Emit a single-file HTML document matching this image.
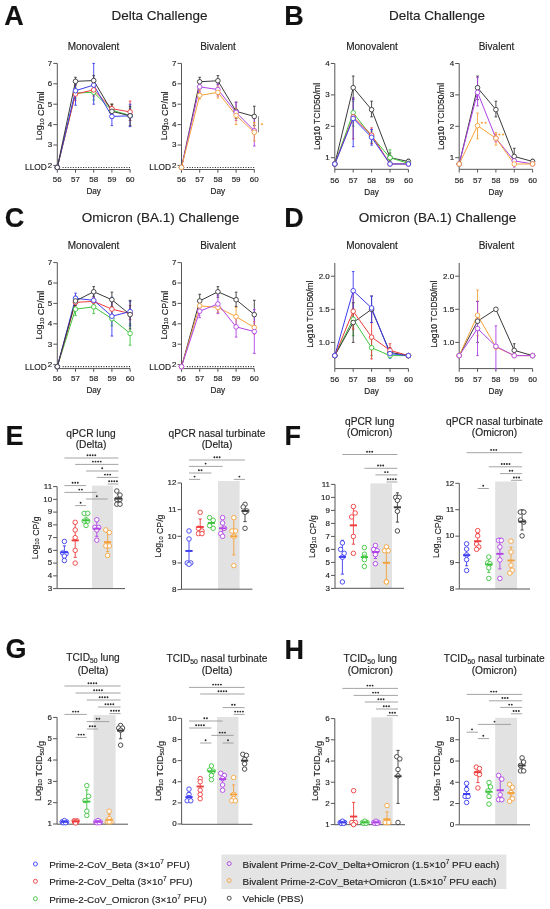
<!DOCTYPE html>
<html><head><meta charset="utf-8"><style>
html,body{margin:0;padding:0;background:#fff;}
svg{display:block;font-family:'Liberation Sans', sans-serif;filter:blur(0.3px);}
text{stroke:#222;stroke-width:0.15px;}
</style></head><body>
<svg width="550" height="909" viewBox="0 0 550 909">
<rect width="550" height="909" fill="#fff"/>
<text x="4.20" y="25.00" font-size="27" text-anchor="start" font-weight="700" fill="#111" >A</text>
<text x="284.20" y="25.00" font-size="27" text-anchor="start" font-weight="700" fill="#111" >B</text>
<text x="4.70" y="227.20" font-size="27" text-anchor="start" font-weight="700" fill="#111" >C</text>
<text x="284.20" y="227.30" font-size="27" text-anchor="start" font-weight="700" fill="#111" >D</text>
<text x="5.50" y="445.00" font-size="27" text-anchor="start" font-weight="700" fill="#111" >E</text>
<text x="284.60" y="445.00" font-size="27" text-anchor="start" font-weight="700" fill="#111" >F</text>
<text x="5.50" y="657.60" font-size="27" text-anchor="start" font-weight="700" fill="#111" >G</text>
<text x="284.40" y="658.50" font-size="27" text-anchor="start" font-weight="700" fill="#111" >H</text>
<text x="159.50" y="20.00" font-size="13.5" text-anchor="middle" font-weight="400" fill="#222" >Delta Challenge</text>
<text x="437.00" y="20.00" font-size="13.5" text-anchor="middle" font-weight="400" fill="#222" >Delta Challenge</text>
<text x="160.50" y="222.30" font-size="13.5" text-anchor="middle" font-weight="400" fill="#222" >Omicron (BA.1) Challenge</text>
<text x="437.50" y="222.30" font-size="13.5" text-anchor="middle" font-weight="400" fill="#222" >Omicron (BA.1) Challenge</text>
<text x="93.50" y="50.20" font-size="10" text-anchor="middle" font-weight="400" fill="#222" >Monovalent</text>
<text x="218.00" y="50.20" font-size="10" text-anchor="middle" font-weight="400" fill="#222" >Bivalent</text>
<text x="372.00" y="50.20" font-size="10" text-anchor="middle" font-weight="400" fill="#222" >Monovalent</text>
<text x="496.50" y="50.20" font-size="10" text-anchor="middle" font-weight="400" fill="#222" >Bivalent</text>
<text x="93.50" y="249.20" font-size="10" text-anchor="middle" font-weight="400" fill="#222" >Monovalent</text>
<text x="218.00" y="249.20" font-size="10" text-anchor="middle" font-weight="400" fill="#222" >Bivalent</text>
<text x="372.00" y="249.20" font-size="10" text-anchor="middle" font-weight="400" fill="#222" >Monovalent</text>
<text x="496.50" y="249.20" font-size="10" text-anchor="middle" font-weight="400" fill="#222" >Bivalent</text>
<line x1="57.30" y1="63.40" x2="57.30" y2="169.50" stroke="#555555" stroke-width="1" />
<line x1="57.30" y1="169.50" x2="130.10" y2="169.50" stroke="#555555" stroke-width="1" />
<line x1="53.30" y1="63.40" x2="57.30" y2="63.40" stroke="#555555" stroke-width="1" />
<text x="52.30" y="65.72" font-size="8" text-anchor="end" font-weight="400" fill="#222" >7</text>
<line x1="53.30" y1="83.80" x2="57.30" y2="83.80" stroke="#555555" stroke-width="1" />
<text x="52.30" y="86.12" font-size="8" text-anchor="end" font-weight="400" fill="#222" >6</text>
<line x1="53.30" y1="104.20" x2="57.30" y2="104.20" stroke="#555555" stroke-width="1" />
<text x="52.30" y="106.52" font-size="8" text-anchor="end" font-weight="400" fill="#222" >5</text>
<line x1="53.30" y1="124.60" x2="57.30" y2="124.60" stroke="#555555" stroke-width="1" />
<text x="52.30" y="126.92" font-size="8" text-anchor="end" font-weight="400" fill="#222" >4</text>
<line x1="53.30" y1="145.00" x2="57.30" y2="145.00" stroke="#555555" stroke-width="1" />
<text x="52.30" y="147.32" font-size="8" text-anchor="end" font-weight="400" fill="#222" >3</text>
<line x1="53.30" y1="165.40" x2="57.30" y2="165.40" stroke="#555555" stroke-width="1" />
<text x="52.30" y="167.72" font-size="8" text-anchor="end" font-weight="400" fill="#222" >2</text>
<line x1="57.30" y1="169.50" x2="57.30" y2="172.70" stroke="#555555" stroke-width="1" />
<text x="57.30" y="181.50" font-size="8" text-anchor="middle" font-weight="400" fill="#222" >56</text>
<line x1="75.50" y1="169.50" x2="75.50" y2="172.70" stroke="#555555" stroke-width="1" />
<text x="75.50" y="181.50" font-size="8" text-anchor="middle" font-weight="400" fill="#222" >57</text>
<line x1="93.70" y1="169.50" x2="93.70" y2="172.70" stroke="#555555" stroke-width="1" />
<text x="93.70" y="181.50" font-size="8" text-anchor="middle" font-weight="400" fill="#222" >58</text>
<line x1="111.90" y1="169.50" x2="111.90" y2="172.70" stroke="#555555" stroke-width="1" />
<text x="111.90" y="181.50" font-size="8" text-anchor="middle" font-weight="400" fill="#222" >59</text>
<line x1="130.10" y1="169.50" x2="130.10" y2="172.70" stroke="#555555" stroke-width="1" />
<text x="130.10" y="181.50" font-size="8" text-anchor="middle" font-weight="400" fill="#222" >60</text>
<text x="93.70" y="193.50" font-size="8.2" text-anchor="middle" font-weight="400" fill="#222" >Day</text>
<line x1="62.60" y1="167.44" x2="130.10" y2="167.44" stroke="#333" stroke-width="1.1" stroke-dasharray="1.1 1.45"/>
<text x="46.80" y="170.44" font-size="8.3" text-anchor="end" font-weight="400" fill="#222" >LLOD</text>
<line x1="75.50" y1="98.08" x2="75.50" y2="87.88" stroke="#3cc43c" stroke-width="0.9" />
<line x1="74.20" y1="98.08" x2="76.80" y2="98.08" stroke="#3cc43c" stroke-width="0.9" />
<line x1="74.20" y1="87.88" x2="76.80" y2="87.88" stroke="#3cc43c" stroke-width="0.9" />
<line x1="93.70" y1="100.12" x2="93.70" y2="85.84" stroke="#3cc43c" stroke-width="0.9" />
<line x1="92.40" y1="100.12" x2="95.00" y2="100.12" stroke="#3cc43c" stroke-width="0.9" />
<line x1="92.40" y1="85.84" x2="95.00" y2="85.84" stroke="#3cc43c" stroke-width="0.9" />
<line x1="111.90" y1="116.44" x2="111.90" y2="104.20" stroke="#3cc43c" stroke-width="0.9" />
<line x1="110.60" y1="116.44" x2="113.20" y2="116.44" stroke="#3cc43c" stroke-width="0.9" />
<line x1="110.60" y1="104.20" x2="113.20" y2="104.20" stroke="#3cc43c" stroke-width="0.9" />
<line x1="130.10" y1="120.52" x2="130.10" y2="108.28" stroke="#3cc43c" stroke-width="0.9" />
<line x1="128.80" y1="120.52" x2="131.40" y2="120.52" stroke="#3cc43c" stroke-width="0.9" />
<line x1="128.80" y1="108.28" x2="131.40" y2="108.28" stroke="#3cc43c" stroke-width="0.9" />
<polyline points="57.30,167.44 75.50,92.98 93.70,92.37 111.90,110.32 130.10,115.42" fill="none" stroke="#3cc43c" stroke-width="1.0" stroke-linejoin="round"/>
<line x1="75.50" y1="100.12" x2="75.50" y2="85.84" stroke="#ee3b3b" stroke-width="0.9" />
<line x1="74.20" y1="100.12" x2="76.80" y2="100.12" stroke="#ee3b3b" stroke-width="0.9" />
<line x1="74.20" y1="85.84" x2="76.80" y2="85.84" stroke="#ee3b3b" stroke-width="0.9" />
<line x1="93.70" y1="96.04" x2="93.70" y2="81.76" stroke="#ee3b3b" stroke-width="0.9" />
<line x1="92.40" y1="96.04" x2="95.00" y2="96.04" stroke="#ee3b3b" stroke-width="0.9" />
<line x1="92.40" y1="81.76" x2="95.00" y2="81.76" stroke="#ee3b3b" stroke-width="0.9" />
<line x1="111.90" y1="114.40" x2="111.90" y2="104.20" stroke="#ee3b3b" stroke-width="0.9" />
<line x1="110.60" y1="114.40" x2="113.20" y2="114.40" stroke="#ee3b3b" stroke-width="0.9" />
<line x1="110.60" y1="104.20" x2="113.20" y2="104.20" stroke="#ee3b3b" stroke-width="0.9" />
<line x1="130.10" y1="120.52" x2="130.10" y2="101.14" stroke="#ee3b3b" stroke-width="0.9" />
<line x1="128.80" y1="120.52" x2="131.40" y2="120.52" stroke="#ee3b3b" stroke-width="0.9" />
<line x1="128.80" y1="101.14" x2="131.40" y2="101.14" stroke="#ee3b3b" stroke-width="0.9" />
<polyline points="57.30,167.44 75.50,94.00 93.70,89.92 111.90,108.69 130.10,111.95" fill="none" stroke="#ee3b3b" stroke-width="1.0" stroke-linejoin="round"/>
<line x1="75.50" y1="105.22" x2="75.50" y2="83.80" stroke="#3c3cf0" stroke-width="0.9" />
<line x1="74.20" y1="105.22" x2="76.80" y2="105.22" stroke="#3c3cf0" stroke-width="0.9" />
<line x1="74.20" y1="83.80" x2="76.80" y2="83.80" stroke="#3c3cf0" stroke-width="0.9" />
<line x1="93.70" y1="104.20" x2="93.70" y2="63.40" stroke="#3c3cf0" stroke-width="0.9" />
<line x1="92.40" y1="104.20" x2="95.00" y2="104.20" stroke="#3c3cf0" stroke-width="0.9" />
<line x1="92.40" y1="63.40" x2="95.00" y2="63.40" stroke="#3c3cf0" stroke-width="0.9" />
<line x1="111.90" y1="125.62" x2="111.90" y2="107.26" stroke="#3c3cf0" stroke-width="0.9" />
<line x1="110.60" y1="125.62" x2="113.20" y2="125.62" stroke="#3c3cf0" stroke-width="0.9" />
<line x1="110.60" y1="107.26" x2="113.20" y2="107.26" stroke="#3c3cf0" stroke-width="0.9" />
<line x1="130.10" y1="126.64" x2="130.10" y2="104.20" stroke="#3c3cf0" stroke-width="0.9" />
<line x1="128.80" y1="126.64" x2="131.40" y2="126.64" stroke="#3c3cf0" stroke-width="0.9" />
<line x1="128.80" y1="104.20" x2="131.40" y2="104.20" stroke="#3c3cf0" stroke-width="0.9" />
<polyline points="57.30,167.44 75.50,90.74 93.70,85.02 111.90,116.44 130.10,115.83" fill="none" stroke="#3c3cf0" stroke-width="1.0" stroke-linejoin="round"/>
<line x1="75.50" y1="84.82" x2="75.50" y2="77.27" stroke="#3a3a3a" stroke-width="0.9" />
<line x1="74.20" y1="84.82" x2="76.80" y2="84.82" stroke="#3a3a3a" stroke-width="0.9" />
<line x1="74.20" y1="77.27" x2="76.80" y2="77.27" stroke="#3a3a3a" stroke-width="0.9" />
<line x1="93.70" y1="85.84" x2="93.70" y2="75.64" stroke="#3a3a3a" stroke-width="0.9" />
<line x1="92.40" y1="85.84" x2="95.00" y2="85.84" stroke="#3a3a3a" stroke-width="0.9" />
<line x1="92.40" y1="75.64" x2="95.00" y2="75.64" stroke="#3a3a3a" stroke-width="0.9" />
<line x1="111.90" y1="118.48" x2="111.90" y2="104.20" stroke="#3a3a3a" stroke-width="0.9" />
<line x1="110.60" y1="118.48" x2="113.20" y2="118.48" stroke="#3a3a3a" stroke-width="0.9" />
<line x1="110.60" y1="104.20" x2="113.20" y2="104.20" stroke="#3a3a3a" stroke-width="0.9" />
<line x1="130.10" y1="125.62" x2="130.10" y2="106.24" stroke="#3a3a3a" stroke-width="0.9" />
<line x1="128.80" y1="125.62" x2="131.40" y2="125.62" stroke="#3a3a3a" stroke-width="0.9" />
<line x1="128.80" y1="106.24" x2="131.40" y2="106.24" stroke="#3a3a3a" stroke-width="0.9" />
<polyline points="57.30,167.44 75.50,81.35 93.70,80.54 111.90,111.34 130.10,115.83" fill="none" stroke="#3a3a3a" stroke-width="1.0" stroke-linejoin="round"/>
<circle cx="57.30" cy="167.44" r="2.3" stroke="#3cc43c" stroke-width="0.9" fill="#fff"/>
<circle cx="75.50" cy="92.98" r="2.3" stroke="#3cc43c" stroke-width="0.9" fill="#fff"/>
<circle cx="93.70" cy="92.37" r="2.3" stroke="#3cc43c" stroke-width="0.9" fill="#fff"/>
<circle cx="111.90" cy="110.32" r="2.3" stroke="#3cc43c" stroke-width="0.9" fill="#fff"/>
<circle cx="130.10" cy="115.42" r="2.3" stroke="#3cc43c" stroke-width="0.9" fill="#fff"/>
<circle cx="57.30" cy="167.44" r="2.3" stroke="#ee3b3b" stroke-width="0.9" fill="#fff"/>
<circle cx="75.50" cy="94.00" r="2.3" stroke="#ee3b3b" stroke-width="0.9" fill="#fff"/>
<circle cx="93.70" cy="89.92" r="2.3" stroke="#ee3b3b" stroke-width="0.9" fill="#fff"/>
<circle cx="111.90" cy="108.69" r="2.3" stroke="#ee3b3b" stroke-width="0.9" fill="#fff"/>
<circle cx="130.10" cy="111.95" r="2.3" stroke="#ee3b3b" stroke-width="0.9" fill="#fff"/>
<circle cx="57.30" cy="167.44" r="2.3" stroke="#3c3cf0" stroke-width="0.9" fill="#fff"/>
<circle cx="75.50" cy="90.74" r="2.3" stroke="#3c3cf0" stroke-width="0.9" fill="#fff"/>
<circle cx="93.70" cy="85.02" r="2.3" stroke="#3c3cf0" stroke-width="0.9" fill="#fff"/>
<circle cx="111.90" cy="116.44" r="2.3" stroke="#3c3cf0" stroke-width="0.9" fill="#fff"/>
<circle cx="130.10" cy="115.83" r="2.3" stroke="#3c3cf0" stroke-width="0.9" fill="#fff"/>
<circle cx="57.30" cy="167.44" r="2.3" stroke="#3a3a3a" stroke-width="0.9" fill="#fff"/>
<circle cx="75.50" cy="81.35" r="2.3" stroke="#3a3a3a" stroke-width="0.9" fill="#fff"/>
<circle cx="93.70" cy="80.54" r="2.3" stroke="#3a3a3a" stroke-width="0.9" fill="#fff"/>
<circle cx="111.90" cy="111.34" r="2.3" stroke="#3a3a3a" stroke-width="0.9" fill="#fff"/>
<circle cx="130.10" cy="115.83" r="2.3" stroke="#3a3a3a" stroke-width="0.9" fill="#fff"/>
<text x="0" y="0" font-size="9" text-anchor="middle" fill="#222" transform="translate(42.40,115.80) rotate(-90)"><tspan>Log</tspan><tspan font-size="6.12" dy="1.53">10</tspan><tspan dy="-1.53"></tspan><tspan> CP/ml</tspan></text>
<line x1="181.50" y1="63.40" x2="181.50" y2="169.50" stroke="#555555" stroke-width="1" />
<line x1="181.50" y1="169.50" x2="254.30" y2="169.50" stroke="#555555" stroke-width="1" />
<line x1="177.50" y1="63.40" x2="181.50" y2="63.40" stroke="#555555" stroke-width="1" />
<text x="176.50" y="65.72" font-size="8" text-anchor="end" font-weight="400" fill="#222" >7</text>
<line x1="177.50" y1="83.80" x2="181.50" y2="83.80" stroke="#555555" stroke-width="1" />
<text x="176.50" y="86.12" font-size="8" text-anchor="end" font-weight="400" fill="#222" >6</text>
<line x1="177.50" y1="104.20" x2="181.50" y2="104.20" stroke="#555555" stroke-width="1" />
<text x="176.50" y="106.52" font-size="8" text-anchor="end" font-weight="400" fill="#222" >5</text>
<line x1="177.50" y1="124.60" x2="181.50" y2="124.60" stroke="#555555" stroke-width="1" />
<text x="176.50" y="126.92" font-size="8" text-anchor="end" font-weight="400" fill="#222" >4</text>
<line x1="177.50" y1="145.00" x2="181.50" y2="145.00" stroke="#555555" stroke-width="1" />
<text x="176.50" y="147.32" font-size="8" text-anchor="end" font-weight="400" fill="#222" >3</text>
<line x1="177.50" y1="165.40" x2="181.50" y2="165.40" stroke="#555555" stroke-width="1" />
<text x="176.50" y="167.72" font-size="8" text-anchor="end" font-weight="400" fill="#222" >2</text>
<line x1="181.50" y1="169.50" x2="181.50" y2="172.70" stroke="#555555" stroke-width="1" />
<text x="181.50" y="181.50" font-size="8" text-anchor="middle" font-weight="400" fill="#222" >56</text>
<line x1="199.70" y1="169.50" x2="199.70" y2="172.70" stroke="#555555" stroke-width="1" />
<text x="199.70" y="181.50" font-size="8" text-anchor="middle" font-weight="400" fill="#222" >57</text>
<line x1="217.90" y1="169.50" x2="217.90" y2="172.70" stroke="#555555" stroke-width="1" />
<text x="217.90" y="181.50" font-size="8" text-anchor="middle" font-weight="400" fill="#222" >58</text>
<line x1="236.10" y1="169.50" x2="236.10" y2="172.70" stroke="#555555" stroke-width="1" />
<text x="236.10" y="181.50" font-size="8" text-anchor="middle" font-weight="400" fill="#222" >59</text>
<line x1="254.30" y1="169.50" x2="254.30" y2="172.70" stroke="#555555" stroke-width="1" />
<text x="254.30" y="181.50" font-size="8" text-anchor="middle" font-weight="400" fill="#222" >60</text>
<text x="217.90" y="193.50" font-size="8.2" text-anchor="middle" font-weight="400" fill="#222" >Day</text>
<line x1="186.80" y1="167.44" x2="254.30" y2="167.44" stroke="#333" stroke-width="1.1" stroke-dasharray="1.1 1.45"/>
<text x="171.00" y="170.44" font-size="8.3" text-anchor="end" font-weight="400" fill="#222" >LLOD</text>
<line x1="199.70" y1="84.82" x2="199.70" y2="77.27" stroke="#3a3a3a" stroke-width="0.9" />
<line x1="198.40" y1="84.82" x2="201.00" y2="84.82" stroke="#3a3a3a" stroke-width="0.9" />
<line x1="198.40" y1="77.27" x2="201.00" y2="77.27" stroke="#3a3a3a" stroke-width="0.9" />
<line x1="217.90" y1="84.82" x2="217.90" y2="75.64" stroke="#3a3a3a" stroke-width="0.9" />
<line x1="216.60" y1="84.82" x2="219.20" y2="84.82" stroke="#3a3a3a" stroke-width="0.9" />
<line x1="216.60" y1="75.64" x2="219.20" y2="75.64" stroke="#3a3a3a" stroke-width="0.9" />
<line x1="236.10" y1="118.48" x2="236.10" y2="102.16" stroke="#3a3a3a" stroke-width="0.9" />
<line x1="234.80" y1="118.48" x2="237.40" y2="118.48" stroke="#3a3a3a" stroke-width="0.9" />
<line x1="234.80" y1="102.16" x2="237.40" y2="102.16" stroke="#3a3a3a" stroke-width="0.9" />
<line x1="254.30" y1="125.62" x2="254.30" y2="106.24" stroke="#3a3a3a" stroke-width="0.9" />
<line x1="253.00" y1="125.62" x2="255.60" y2="125.62" stroke="#3a3a3a" stroke-width="0.9" />
<line x1="253.00" y1="106.24" x2="255.60" y2="106.24" stroke="#3a3a3a" stroke-width="0.9" />
<polyline points="181.50,167.44 199.70,81.76 217.90,80.74 236.10,111.34 254.30,116.44" fill="none" stroke="#3a3a3a" stroke-width="1.0" stroke-linejoin="round"/>
<line x1="199.70" y1="91.96" x2="199.70" y2="81.76" stroke="#b042e8" stroke-width="0.9" />
<line x1="198.40" y1="91.96" x2="201.00" y2="91.96" stroke="#b042e8" stroke-width="0.9" />
<line x1="198.40" y1="81.76" x2="201.00" y2="81.76" stroke="#b042e8" stroke-width="0.9" />
<line x1="217.90" y1="96.04" x2="217.90" y2="83.80" stroke="#b042e8" stroke-width="0.9" />
<line x1="216.60" y1="96.04" x2="219.20" y2="96.04" stroke="#b042e8" stroke-width="0.9" />
<line x1="216.60" y1="83.80" x2="219.20" y2="83.80" stroke="#b042e8" stroke-width="0.9" />
<line x1="236.10" y1="120.52" x2="236.10" y2="102.16" stroke="#b042e8" stroke-width="0.9" />
<line x1="234.80" y1="120.52" x2="237.40" y2="120.52" stroke="#b042e8" stroke-width="0.9" />
<line x1="234.80" y1="102.16" x2="237.40" y2="102.16" stroke="#b042e8" stroke-width="0.9" />
<line x1="254.30" y1="146.02" x2="254.30" y2="118.48" stroke="#b042e8" stroke-width="0.9" />
<line x1="253.00" y1="146.02" x2="255.60" y2="146.02" stroke="#b042e8" stroke-width="0.9" />
<line x1="253.00" y1="118.48" x2="255.60" y2="118.48" stroke="#b042e8" stroke-width="0.9" />
<polyline points="181.50,167.44 199.70,86.86 217.90,89.51 236.10,112.36 254.30,130.72" fill="none" stroke="#b042e8" stroke-width="1.0" stroke-linejoin="round"/>
<line x1="199.70" y1="99.10" x2="199.70" y2="89.92" stroke="#f5a23a" stroke-width="0.9" />
<line x1="198.40" y1="99.10" x2="201.00" y2="99.10" stroke="#f5a23a" stroke-width="0.9" />
<line x1="198.40" y1="89.92" x2="201.00" y2="89.92" stroke="#f5a23a" stroke-width="0.9" />
<line x1="217.90" y1="98.08" x2="217.90" y2="86.86" stroke="#f5a23a" stroke-width="0.9" />
<line x1="216.60" y1="98.08" x2="219.20" y2="98.08" stroke="#f5a23a" stroke-width="0.9" />
<line x1="216.60" y1="86.86" x2="219.20" y2="86.86" stroke="#f5a23a" stroke-width="0.9" />
<line x1="236.10" y1="124.60" x2="236.10" y2="108.28" stroke="#f5a23a" stroke-width="0.9" />
<line x1="234.80" y1="124.60" x2="237.40" y2="124.60" stroke="#f5a23a" stroke-width="0.9" />
<line x1="234.80" y1="108.28" x2="237.40" y2="108.28" stroke="#f5a23a" stroke-width="0.9" />
<line x1="254.30" y1="140.92" x2="254.30" y2="122.56" stroke="#f5a23a" stroke-width="0.9" />
<line x1="253.00" y1="140.92" x2="255.60" y2="140.92" stroke="#f5a23a" stroke-width="0.9" />
<line x1="253.00" y1="122.56" x2="255.60" y2="122.56" stroke="#f5a23a" stroke-width="0.9" />
<polyline points="181.50,167.44 199.70,95.43 217.90,92.37 236.10,115.42 254.30,132.35" fill="none" stroke="#f5a23a" stroke-width="1.0" stroke-linejoin="round"/>
<circle cx="181.50" cy="167.44" r="2.3" stroke="#3a3a3a" stroke-width="0.9" fill="#fff"/>
<circle cx="199.70" cy="81.76" r="2.3" stroke="#3a3a3a" stroke-width="0.9" fill="#fff"/>
<circle cx="217.90" cy="80.74" r="2.3" stroke="#3a3a3a" stroke-width="0.9" fill="#fff"/>
<circle cx="236.10" cy="111.34" r="2.3" stroke="#3a3a3a" stroke-width="0.9" fill="#fff"/>
<circle cx="254.30" cy="116.44" r="2.3" stroke="#3a3a3a" stroke-width="0.9" fill="#fff"/>
<circle cx="181.50" cy="167.44" r="2.3" stroke="#b042e8" stroke-width="0.9" fill="#fff"/>
<circle cx="199.70" cy="86.86" r="2.3" stroke="#b042e8" stroke-width="0.9" fill="#fff"/>
<circle cx="217.90" cy="89.51" r="2.3" stroke="#b042e8" stroke-width="0.9" fill="#fff"/>
<circle cx="236.10" cy="112.36" r="2.3" stroke="#b042e8" stroke-width="0.9" fill="#fff"/>
<circle cx="254.30" cy="130.72" r="2.3" stroke="#b042e8" stroke-width="0.9" fill="#fff"/>
<circle cx="181.50" cy="167.44" r="2.3" stroke="#f5a23a" stroke-width="0.9" fill="#fff"/>
<circle cx="199.70" cy="95.43" r="2.3" stroke="#f5a23a" stroke-width="0.9" fill="#fff"/>
<circle cx="217.90" cy="92.37" r="2.3" stroke="#f5a23a" stroke-width="0.9" fill="#fff"/>
<circle cx="236.10" cy="115.42" r="2.3" stroke="#f5a23a" stroke-width="0.9" fill="#fff"/>
<circle cx="254.30" cy="132.35" r="2.3" stroke="#f5a23a" stroke-width="0.9" fill="#fff"/>
<text x="0" y="0" font-size="9" text-anchor="middle" fill="#222" transform="translate(166.60,115.80) rotate(-90)"><tspan>Log</tspan><tspan font-size="6.12" dy="1.53">10</tspan><tspan dy="-1.53"></tspan><tspan> CP/ml</tspan></text>
<line x1="258.50" y1="116.44" x2="258.50" y2="132.35" stroke="#666" stroke-width="0.8" />
<circle cx="262.00" cy="124.20" r="1.05" fill="#f5a23a"/>
<line x1="334.80" y1="63.50" x2="334.80" y2="169.30" stroke="#555555" stroke-width="1" />
<line x1="334.80" y1="169.30" x2="408.40" y2="169.30" stroke="#555555" stroke-width="1" />
<line x1="330.80" y1="63.50" x2="334.80" y2="63.50" stroke="#555555" stroke-width="1" />
<text x="329.80" y="65.82" font-size="8" text-anchor="end" font-weight="400" fill="#222" >4</text>
<line x1="330.80" y1="94.90" x2="334.80" y2="94.90" stroke="#555555" stroke-width="1" />
<text x="329.80" y="97.22" font-size="8" text-anchor="end" font-weight="400" fill="#222" >3</text>
<line x1="330.80" y1="126.30" x2="334.80" y2="126.30" stroke="#555555" stroke-width="1" />
<text x="329.80" y="128.62" font-size="8" text-anchor="end" font-weight="400" fill="#222" >2</text>
<line x1="330.80" y1="157.70" x2="334.80" y2="157.70" stroke="#555555" stroke-width="1" />
<text x="329.80" y="160.02" font-size="8" text-anchor="end" font-weight="400" fill="#222" >1</text>
<line x1="334.80" y1="169.30" x2="334.80" y2="172.50" stroke="#555555" stroke-width="1" />
<text x="334.80" y="182.80" font-size="8" text-anchor="middle" font-weight="400" fill="#222" >56</text>
<line x1="353.20" y1="169.30" x2="353.20" y2="172.50" stroke="#555555" stroke-width="1" />
<text x="353.20" y="182.80" font-size="8" text-anchor="middle" font-weight="400" fill="#222" >57</text>
<line x1="371.60" y1="169.30" x2="371.60" y2="172.50" stroke="#555555" stroke-width="1" />
<text x="371.60" y="182.80" font-size="8" text-anchor="middle" font-weight="400" fill="#222" >58</text>
<line x1="390.00" y1="169.30" x2="390.00" y2="172.50" stroke="#555555" stroke-width="1" />
<text x="390.00" y="182.80" font-size="8" text-anchor="middle" font-weight="400" fill="#222" >59</text>
<line x1="408.40" y1="169.30" x2="408.40" y2="172.50" stroke="#555555" stroke-width="1" />
<text x="408.40" y="182.80" font-size="8" text-anchor="middle" font-weight="400" fill="#222" >60</text>
<text x="371.60" y="194.80" font-size="8.2" text-anchor="middle" font-weight="400" fill="#222" >Day</text>
<line x1="353.20" y1="99.61" x2="353.20" y2="76.06" stroke="#3a3a3a" stroke-width="0.9" />
<line x1="351.90" y1="99.61" x2="354.50" y2="99.61" stroke="#3a3a3a" stroke-width="0.9" />
<line x1="351.90" y1="76.06" x2="354.50" y2="76.06" stroke="#3a3a3a" stroke-width="0.9" />
<line x1="371.60" y1="116.88" x2="371.60" y2="101.18" stroke="#3a3a3a" stroke-width="0.9" />
<line x1="370.30" y1="116.88" x2="372.90" y2="116.88" stroke="#3a3a3a" stroke-width="0.9" />
<line x1="370.30" y1="101.18" x2="372.90" y2="101.18" stroke="#3a3a3a" stroke-width="0.9" />
<line x1="390.00" y1="160.84" x2="390.00" y2="152.99" stroke="#3a3a3a" stroke-width="0.9" />
<line x1="388.70" y1="160.84" x2="391.30" y2="160.84" stroke="#3a3a3a" stroke-width="0.9" />
<line x1="388.70" y1="152.99" x2="391.30" y2="152.99" stroke="#3a3a3a" stroke-width="0.9" />
<line x1="408.40" y1="163.35" x2="408.40" y2="159.27" stroke="#3a3a3a" stroke-width="0.9" />
<line x1="407.10" y1="163.35" x2="409.70" y2="163.35" stroke="#3a3a3a" stroke-width="0.9" />
<line x1="407.10" y1="159.27" x2="409.70" y2="159.27" stroke="#3a3a3a" stroke-width="0.9" />
<polyline points="334.80,163.98 353.20,87.68 371.60,109.66 390.00,157.70 408.40,161.47" fill="none" stroke="#3a3a3a" stroke-width="1.0" stroke-linejoin="round"/>
<line x1="353.20" y1="126.30" x2="353.20" y2="101.18" stroke="#3cc43c" stroke-width="0.9" />
<line x1="351.90" y1="126.30" x2="354.50" y2="126.30" stroke="#3cc43c" stroke-width="0.9" />
<line x1="351.90" y1="101.18" x2="354.50" y2="101.18" stroke="#3cc43c" stroke-width="0.9" />
<line x1="371.60" y1="142.00" x2="371.60" y2="131.01" stroke="#3cc43c" stroke-width="0.9" />
<line x1="370.30" y1="142.00" x2="372.90" y2="142.00" stroke="#3cc43c" stroke-width="0.9" />
<line x1="370.30" y1="131.01" x2="372.90" y2="131.01" stroke="#3cc43c" stroke-width="0.9" />
<line x1="390.00" y1="162.41" x2="390.00" y2="149.85" stroke="#3cc43c" stroke-width="0.9" />
<line x1="388.70" y1="162.41" x2="391.30" y2="162.41" stroke="#3cc43c" stroke-width="0.9" />
<line x1="388.70" y1="149.85" x2="391.30" y2="149.85" stroke="#3cc43c" stroke-width="0.9" />
<polyline points="334.80,163.98 353.20,112.80 371.60,136.35 390.00,157.70 408.40,163.35" fill="none" stroke="#3cc43c" stroke-width="1.0" stroke-linejoin="round"/>
<line x1="353.20" y1="138.86" x2="353.20" y2="98.04" stroke="#ee3b3b" stroke-width="0.9" />
<line x1="351.90" y1="138.86" x2="354.50" y2="138.86" stroke="#ee3b3b" stroke-width="0.9" />
<line x1="351.90" y1="98.04" x2="354.50" y2="98.04" stroke="#ee3b3b" stroke-width="0.9" />
<line x1="371.60" y1="143.57" x2="371.60" y2="127.87" stroke="#ee3b3b" stroke-width="0.9" />
<line x1="370.30" y1="143.57" x2="372.90" y2="143.57" stroke="#ee3b3b" stroke-width="0.9" />
<line x1="370.30" y1="127.87" x2="372.90" y2="127.87" stroke="#ee3b3b" stroke-width="0.9" />
<polyline points="334.80,163.98 353.20,116.88 371.60,135.09 390.00,163.98 408.40,163.98" fill="none" stroke="#ee3b3b" stroke-width="1.0" stroke-linejoin="round"/>
<line x1="353.20" y1="146.71" x2="353.20" y2="98.04" stroke="#3c3cf0" stroke-width="0.9" />
<line x1="351.90" y1="146.71" x2="354.50" y2="146.71" stroke="#3c3cf0" stroke-width="0.9" />
<line x1="351.90" y1="98.04" x2="354.50" y2="98.04" stroke="#3c3cf0" stroke-width="0.9" />
<line x1="371.60" y1="145.14" x2="371.60" y2="129.44" stroke="#3c3cf0" stroke-width="0.9" />
<line x1="370.30" y1="145.14" x2="372.90" y2="145.14" stroke="#3c3cf0" stroke-width="0.9" />
<line x1="370.30" y1="129.44" x2="372.90" y2="129.44" stroke="#3c3cf0" stroke-width="0.9" />
<polyline points="334.80,163.98 353.20,118.45 371.60,137.29 390.00,163.98 408.40,163.98" fill="none" stroke="#3c3cf0" stroke-width="1.0" stroke-linejoin="round"/>
<circle cx="334.80" cy="163.98" r="2.3" stroke="#3a3a3a" stroke-width="0.9" fill="#fff"/>
<circle cx="353.20" cy="87.68" r="2.3" stroke="#3a3a3a" stroke-width="0.9" fill="#fff"/>
<circle cx="371.60" cy="109.66" r="2.3" stroke="#3a3a3a" stroke-width="0.9" fill="#fff"/>
<circle cx="390.00" cy="157.70" r="2.3" stroke="#3a3a3a" stroke-width="0.9" fill="#fff"/>
<circle cx="408.40" cy="161.47" r="2.3" stroke="#3a3a3a" stroke-width="0.9" fill="#fff"/>
<circle cx="334.80" cy="163.98" r="2.3" stroke="#3cc43c" stroke-width="0.9" fill="#fff"/>
<circle cx="353.20" cy="112.80" r="2.3" stroke="#3cc43c" stroke-width="0.9" fill="#fff"/>
<circle cx="371.60" cy="136.35" r="2.3" stroke="#3cc43c" stroke-width="0.9" fill="#fff"/>
<circle cx="390.00" cy="157.70" r="2.3" stroke="#3cc43c" stroke-width="0.9" fill="#fff"/>
<circle cx="408.40" cy="163.35" r="2.3" stroke="#3cc43c" stroke-width="0.9" fill="#fff"/>
<circle cx="334.80" cy="163.98" r="2.3" stroke="#ee3b3b" stroke-width="0.9" fill="#fff"/>
<circle cx="353.20" cy="116.88" r="2.3" stroke="#ee3b3b" stroke-width="0.9" fill="#fff"/>
<circle cx="371.60" cy="135.09" r="2.3" stroke="#ee3b3b" stroke-width="0.9" fill="#fff"/>
<circle cx="390.00" cy="163.98" r="2.3" stroke="#ee3b3b" stroke-width="0.9" fill="#fff"/>
<circle cx="408.40" cy="163.98" r="2.3" stroke="#ee3b3b" stroke-width="0.9" fill="#fff"/>
<circle cx="334.80" cy="163.98" r="2.3" stroke="#3c3cf0" stroke-width="0.9" fill="#fff"/>
<circle cx="353.20" cy="118.45" r="2.3" stroke="#3c3cf0" stroke-width="0.9" fill="#fff"/>
<circle cx="371.60" cy="137.29" r="2.3" stroke="#3c3cf0" stroke-width="0.9" fill="#fff"/>
<circle cx="390.00" cy="163.98" r="2.3" stroke="#3c3cf0" stroke-width="0.9" fill="#fff"/>
<circle cx="408.40" cy="163.98" r="2.3" stroke="#3c3cf0" stroke-width="0.9" fill="#fff"/>
<text x="0" y="0" font-size="8.6" text-anchor="middle" fill="#222" transform="translate(320.00,116.50) rotate(-90)"><tspan>Log10 TCID50/ml</tspan></text>
<line x1="459.20" y1="63.50" x2="459.20" y2="169.30" stroke="#555555" stroke-width="1" />
<line x1="459.20" y1="169.30" x2="532.60" y2="169.30" stroke="#555555" stroke-width="1" />
<line x1="455.20" y1="63.50" x2="459.20" y2="63.50" stroke="#555555" stroke-width="1" />
<text x="454.20" y="65.82" font-size="8" text-anchor="end" font-weight="400" fill="#222" >4</text>
<line x1="455.20" y1="94.90" x2="459.20" y2="94.90" stroke="#555555" stroke-width="1" />
<text x="454.20" y="97.22" font-size="8" text-anchor="end" font-weight="400" fill="#222" >3</text>
<line x1="455.20" y1="126.30" x2="459.20" y2="126.30" stroke="#555555" stroke-width="1" />
<text x="454.20" y="128.62" font-size="8" text-anchor="end" font-weight="400" fill="#222" >2</text>
<line x1="455.20" y1="157.70" x2="459.20" y2="157.70" stroke="#555555" stroke-width="1" />
<text x="454.20" y="160.02" font-size="8" text-anchor="end" font-weight="400" fill="#222" >1</text>
<line x1="459.20" y1="169.30" x2="459.20" y2="172.50" stroke="#555555" stroke-width="1" />
<text x="459.20" y="182.80" font-size="8" text-anchor="middle" font-weight="400" fill="#222" >56</text>
<line x1="477.55" y1="169.30" x2="477.55" y2="172.50" stroke="#555555" stroke-width="1" />
<text x="477.55" y="182.80" font-size="8" text-anchor="middle" font-weight="400" fill="#222" >57</text>
<line x1="495.90" y1="169.30" x2="495.90" y2="172.50" stroke="#555555" stroke-width="1" />
<text x="495.90" y="182.80" font-size="8" text-anchor="middle" font-weight="400" fill="#222" >58</text>
<line x1="514.25" y1="169.30" x2="514.25" y2="172.50" stroke="#555555" stroke-width="1" />
<text x="514.25" y="182.80" font-size="8" text-anchor="middle" font-weight="400" fill="#222" >59</text>
<line x1="532.60" y1="169.30" x2="532.60" y2="172.50" stroke="#555555" stroke-width="1" />
<text x="532.60" y="182.80" font-size="8" text-anchor="middle" font-weight="400" fill="#222" >60</text>
<text x="495.90" y="194.80" font-size="8.2" text-anchor="middle" font-weight="400" fill="#222" >Day</text>
<line x1="477.55" y1="99.61" x2="477.55" y2="76.06" stroke="#3a3a3a" stroke-width="0.9" />
<line x1="476.25" y1="99.61" x2="478.85" y2="99.61" stroke="#3a3a3a" stroke-width="0.9" />
<line x1="476.25" y1="76.06" x2="478.85" y2="76.06" stroke="#3a3a3a" stroke-width="0.9" />
<line x1="495.90" y1="116.88" x2="495.90" y2="101.18" stroke="#3a3a3a" stroke-width="0.9" />
<line x1="494.60" y1="116.88" x2="497.20" y2="116.88" stroke="#3a3a3a" stroke-width="0.9" />
<line x1="494.60" y1="101.18" x2="497.20" y2="101.18" stroke="#3a3a3a" stroke-width="0.9" />
<line x1="514.25" y1="160.84" x2="514.25" y2="148.28" stroke="#3a3a3a" stroke-width="0.9" />
<line x1="512.95" y1="160.84" x2="515.55" y2="160.84" stroke="#3a3a3a" stroke-width="0.9" />
<line x1="512.95" y1="148.28" x2="515.55" y2="148.28" stroke="#3a3a3a" stroke-width="0.9" />
<line x1="532.60" y1="163.35" x2="532.60" y2="159.27" stroke="#3a3a3a" stroke-width="0.9" />
<line x1="531.30" y1="163.35" x2="533.90" y2="163.35" stroke="#3a3a3a" stroke-width="0.9" />
<line x1="531.30" y1="159.27" x2="533.90" y2="159.27" stroke="#3a3a3a" stroke-width="0.9" />
<polyline points="459.20,163.98 477.55,87.68 495.90,109.66 514.25,156.44 532.60,161.47" fill="none" stroke="#3a3a3a" stroke-width="1.0" stroke-linejoin="round"/>
<line x1="477.55" y1="105.89" x2="477.55" y2="77.63" stroke="#b042e8" stroke-width="0.9" />
<line x1="476.25" y1="105.89" x2="478.85" y2="105.89" stroke="#b042e8" stroke-width="0.9" />
<line x1="476.25" y1="77.63" x2="478.85" y2="77.63" stroke="#b042e8" stroke-width="0.9" />
<line x1="495.90" y1="142.00" x2="495.90" y2="134.15" stroke="#b042e8" stroke-width="0.9" />
<line x1="494.60" y1="142.00" x2="497.20" y2="142.00" stroke="#b042e8" stroke-width="0.9" />
<line x1="494.60" y1="134.15" x2="497.20" y2="134.15" stroke="#b042e8" stroke-width="0.9" />
<line x1="514.25" y1="167.12" x2="514.25" y2="157.70" stroke="#b042e8" stroke-width="0.9" />
<line x1="512.95" y1="167.12" x2="515.55" y2="167.12" stroke="#b042e8" stroke-width="0.9" />
<line x1="512.95" y1="157.70" x2="515.55" y2="157.70" stroke="#b042e8" stroke-width="0.9" />
<polyline points="459.20,163.98 477.55,92.39 495.90,138.23 514.25,160.84 532.60,163.98" fill="none" stroke="#b042e8" stroke-width="1.0" stroke-linejoin="round"/>
<line x1="477.55" y1="138.86" x2="477.55" y2="113.11" stroke="#f5a23a" stroke-width="0.9" />
<line x1="476.25" y1="138.86" x2="478.85" y2="138.86" stroke="#f5a23a" stroke-width="0.9" />
<line x1="476.25" y1="113.11" x2="478.85" y2="113.11" stroke="#f5a23a" stroke-width="0.9" />
<line x1="495.90" y1="145.14" x2="495.90" y2="132.58" stroke="#f5a23a" stroke-width="0.9" />
<line x1="494.60" y1="145.14" x2="497.20" y2="145.14" stroke="#f5a23a" stroke-width="0.9" />
<line x1="494.60" y1="132.58" x2="497.20" y2="132.58" stroke="#f5a23a" stroke-width="0.9" />
<polyline points="459.20,163.98 477.55,125.67 495.90,138.23 514.25,163.98 532.60,163.98" fill="none" stroke="#f5a23a" stroke-width="1.0" stroke-linejoin="round"/>
<circle cx="459.20" cy="163.98" r="2.3" stroke="#3a3a3a" stroke-width="0.9" fill="#fff"/>
<circle cx="477.55" cy="87.68" r="2.3" stroke="#3a3a3a" stroke-width="0.9" fill="#fff"/>
<circle cx="495.90" cy="109.66" r="2.3" stroke="#3a3a3a" stroke-width="0.9" fill="#fff"/>
<circle cx="514.25" cy="156.44" r="2.3" stroke="#3a3a3a" stroke-width="0.9" fill="#fff"/>
<circle cx="532.60" cy="161.47" r="2.3" stroke="#3a3a3a" stroke-width="0.9" fill="#fff"/>
<circle cx="459.20" cy="163.98" r="2.3" stroke="#b042e8" stroke-width="0.9" fill="#fff"/>
<circle cx="477.55" cy="92.39" r="2.3" stroke="#b042e8" stroke-width="0.9" fill="#fff"/>
<circle cx="495.90" cy="138.23" r="2.3" stroke="#b042e8" stroke-width="0.9" fill="#fff"/>
<circle cx="514.25" cy="160.84" r="2.3" stroke="#b042e8" stroke-width="0.9" fill="#fff"/>
<circle cx="532.60" cy="163.98" r="2.3" stroke="#b042e8" stroke-width="0.9" fill="#fff"/>
<circle cx="459.20" cy="163.98" r="2.3" stroke="#f5a23a" stroke-width="0.9" fill="#fff"/>
<circle cx="477.55" cy="125.67" r="2.3" stroke="#f5a23a" stroke-width="0.9" fill="#fff"/>
<circle cx="495.90" cy="138.23" r="2.3" stroke="#f5a23a" stroke-width="0.9" fill="#fff"/>
<circle cx="514.25" cy="163.98" r="2.3" stroke="#f5a23a" stroke-width="0.9" fill="#fff"/>
<circle cx="532.60" cy="163.98" r="2.3" stroke="#f5a23a" stroke-width="0.9" fill="#fff"/>
<text x="0" y="0" font-size="8.6" text-anchor="middle" fill="#222" transform="translate(444.40,116.50) rotate(-90)"><tspan>Log10 TCID50/ml</tspan></text>
<circle cx="481.85" cy="122.70" r="1.05" fill="#f5a23a"/>
<circle cx="485.55" cy="122.70" r="1.05" fill="#f5a23a"/>
<circle cx="495.80" cy="134.50" r="1.05" fill="#f5a23a"/>
<circle cx="499.40" cy="134.50" r="1.05" fill="#f5a23a"/>
<circle cx="503.00" cy="134.50" r="1.05" fill="#f5a23a"/>
<line x1="57.30" y1="262.60" x2="57.30" y2="368.60" stroke="#555555" stroke-width="1" />
<line x1="57.30" y1="368.60" x2="130.10" y2="368.60" stroke="#555555" stroke-width="1" />
<line x1="53.30" y1="262.60" x2="57.30" y2="262.60" stroke="#555555" stroke-width="1" />
<text x="52.30" y="264.92" font-size="8" text-anchor="end" font-weight="400" fill="#222" >7</text>
<line x1="53.30" y1="283.00" x2="57.30" y2="283.00" stroke="#555555" stroke-width="1" />
<text x="52.30" y="285.32" font-size="8" text-anchor="end" font-weight="400" fill="#222" >6</text>
<line x1="53.30" y1="303.40" x2="57.30" y2="303.40" stroke="#555555" stroke-width="1" />
<text x="52.30" y="305.72" font-size="8" text-anchor="end" font-weight="400" fill="#222" >5</text>
<line x1="53.30" y1="323.80" x2="57.30" y2="323.80" stroke="#555555" stroke-width="1" />
<text x="52.30" y="326.12" font-size="8" text-anchor="end" font-weight="400" fill="#222" >4</text>
<line x1="53.30" y1="344.20" x2="57.30" y2="344.20" stroke="#555555" stroke-width="1" />
<text x="52.30" y="346.52" font-size="8" text-anchor="end" font-weight="400" fill="#222" >3</text>
<line x1="53.30" y1="364.60" x2="57.30" y2="364.60" stroke="#555555" stroke-width="1" />
<text x="52.30" y="366.92" font-size="8" text-anchor="end" font-weight="400" fill="#222" >2</text>
<line x1="57.30" y1="368.60" x2="57.30" y2="371.80" stroke="#555555" stroke-width="1" />
<text x="57.30" y="380.60" font-size="8" text-anchor="middle" font-weight="400" fill="#222" >56</text>
<line x1="75.50" y1="368.60" x2="75.50" y2="371.80" stroke="#555555" stroke-width="1" />
<text x="75.50" y="380.60" font-size="8" text-anchor="middle" font-weight="400" fill="#222" >57</text>
<line x1="93.70" y1="368.60" x2="93.70" y2="371.80" stroke="#555555" stroke-width="1" />
<text x="93.70" y="380.60" font-size="8" text-anchor="middle" font-weight="400" fill="#222" >58</text>
<line x1="111.90" y1="368.60" x2="111.90" y2="371.80" stroke="#555555" stroke-width="1" />
<text x="111.90" y="380.60" font-size="8" text-anchor="middle" font-weight="400" fill="#222" >59</text>
<line x1="130.10" y1="368.60" x2="130.10" y2="371.80" stroke="#555555" stroke-width="1" />
<text x="130.10" y="380.60" font-size="8" text-anchor="middle" font-weight="400" fill="#222" >60</text>
<text x="93.70" y="392.60" font-size="8.2" text-anchor="middle" font-weight="400" fill="#222" >Day</text>
<line x1="62.60" y1="366.64" x2="130.10" y2="366.64" stroke="#333" stroke-width="1.1" stroke-dasharray="1.1 1.45"/>
<text x="46.80" y="369.64" font-size="8.3" text-anchor="end" font-weight="400" fill="#222" >LLOD</text>
<line x1="75.50" y1="315.64" x2="75.50" y2="303.40" stroke="#3cc43c" stroke-width="0.9" />
<line x1="74.20" y1="315.64" x2="76.80" y2="315.64" stroke="#3cc43c" stroke-width="0.9" />
<line x1="74.20" y1="303.40" x2="76.80" y2="303.40" stroke="#3cc43c" stroke-width="0.9" />
<line x1="93.70" y1="313.60" x2="93.70" y2="301.36" stroke="#3cc43c" stroke-width="0.9" />
<line x1="92.40" y1="313.60" x2="95.00" y2="313.60" stroke="#3cc43c" stroke-width="0.9" />
<line x1="92.40" y1="301.36" x2="95.00" y2="301.36" stroke="#3cc43c" stroke-width="0.9" />
<line x1="111.90" y1="325.84" x2="111.90" y2="309.52" stroke="#3cc43c" stroke-width="0.9" />
<line x1="110.60" y1="325.84" x2="113.20" y2="325.84" stroke="#3cc43c" stroke-width="0.9" />
<line x1="110.60" y1="309.52" x2="113.20" y2="309.52" stroke="#3cc43c" stroke-width="0.9" />
<line x1="130.10" y1="345.22" x2="130.10" y2="323.80" stroke="#3cc43c" stroke-width="0.9" />
<line x1="128.80" y1="345.22" x2="131.40" y2="345.22" stroke="#3cc43c" stroke-width="0.9" />
<line x1="128.80" y1="323.80" x2="131.40" y2="323.80" stroke="#3cc43c" stroke-width="0.9" />
<polyline points="57.30,366.64 75.50,309.11 93.70,306.87 111.90,318.70 130.10,333.39" fill="none" stroke="#3cc43c" stroke-width="1.0" stroke-linejoin="round"/>
<line x1="75.50" y1="307.48" x2="75.50" y2="297.28" stroke="#ee3b3b" stroke-width="0.9" />
<line x1="74.20" y1="307.48" x2="76.80" y2="307.48" stroke="#ee3b3b" stroke-width="0.9" />
<line x1="74.20" y1="297.28" x2="76.80" y2="297.28" stroke="#ee3b3b" stroke-width="0.9" />
<line x1="93.70" y1="306.46" x2="93.70" y2="297.28" stroke="#ee3b3b" stroke-width="0.9" />
<line x1="92.40" y1="306.46" x2="95.00" y2="306.46" stroke="#ee3b3b" stroke-width="0.9" />
<line x1="92.40" y1="297.28" x2="95.00" y2="297.28" stroke="#ee3b3b" stroke-width="0.9" />
<line x1="111.90" y1="315.64" x2="111.90" y2="301.36" stroke="#ee3b3b" stroke-width="0.9" />
<line x1="110.60" y1="315.64" x2="113.20" y2="315.64" stroke="#ee3b3b" stroke-width="0.9" />
<line x1="110.60" y1="301.36" x2="113.20" y2="301.36" stroke="#ee3b3b" stroke-width="0.9" />
<line x1="130.10" y1="319.72" x2="130.10" y2="305.44" stroke="#ee3b3b" stroke-width="0.9" />
<line x1="128.80" y1="319.72" x2="131.40" y2="319.72" stroke="#ee3b3b" stroke-width="0.9" />
<line x1="128.80" y1="305.44" x2="131.40" y2="305.44" stroke="#ee3b3b" stroke-width="0.9" />
<polyline points="57.30,366.64 75.50,302.38 93.70,301.36 111.90,309.11 130.10,313.60" fill="none" stroke="#ee3b3b" stroke-width="1.0" stroke-linejoin="round"/>
<line x1="75.50" y1="304.42" x2="75.50" y2="293.20" stroke="#3c3cf0" stroke-width="0.9" />
<line x1="74.20" y1="304.42" x2="76.80" y2="304.42" stroke="#3c3cf0" stroke-width="0.9" />
<line x1="74.20" y1="293.20" x2="76.80" y2="293.20" stroke="#3c3cf0" stroke-width="0.9" />
<line x1="93.70" y1="307.48" x2="93.70" y2="293.20" stroke="#3c3cf0" stroke-width="0.9" />
<line x1="92.40" y1="307.48" x2="95.00" y2="307.48" stroke="#3c3cf0" stroke-width="0.9" />
<line x1="92.40" y1="293.20" x2="95.00" y2="293.20" stroke="#3c3cf0" stroke-width="0.9" />
<line x1="111.90" y1="336.04" x2="111.90" y2="297.28" stroke="#3c3cf0" stroke-width="0.9" />
<line x1="110.60" y1="336.04" x2="113.20" y2="336.04" stroke="#3c3cf0" stroke-width="0.9" />
<line x1="110.60" y1="297.28" x2="113.20" y2="297.28" stroke="#3c3cf0" stroke-width="0.9" />
<line x1="130.10" y1="325.84" x2="130.10" y2="301.36" stroke="#3c3cf0" stroke-width="0.9" />
<line x1="128.80" y1="325.84" x2="131.40" y2="325.84" stroke="#3c3cf0" stroke-width="0.9" />
<line x1="128.80" y1="301.36" x2="131.40" y2="301.36" stroke="#3c3cf0" stroke-width="0.9" />
<polyline points="57.30,366.64 75.50,298.30 93.70,300.34 111.90,316.25 130.10,311.56" fill="none" stroke="#3c3cf0" stroke-width="1.0" stroke-linejoin="round"/>
<line x1="75.50" y1="305.44" x2="75.50" y2="296.26" stroke="#3a3a3a" stroke-width="0.9" />
<line x1="74.20" y1="305.44" x2="76.80" y2="305.44" stroke="#3a3a3a" stroke-width="0.9" />
<line x1="74.20" y1="296.26" x2="76.80" y2="296.26" stroke="#3a3a3a" stroke-width="0.9" />
<line x1="93.70" y1="296.26" x2="93.70" y2="286.67" stroke="#3a3a3a" stroke-width="0.9" />
<line x1="92.40" y1="296.26" x2="95.00" y2="296.26" stroke="#3a3a3a" stroke-width="0.9" />
<line x1="92.40" y1="286.67" x2="95.00" y2="286.67" stroke="#3a3a3a" stroke-width="0.9" />
<line x1="111.90" y1="306.46" x2="111.90" y2="292.18" stroke="#3a3a3a" stroke-width="0.9" />
<line x1="110.60" y1="306.46" x2="113.20" y2="306.46" stroke="#3a3a3a" stroke-width="0.9" />
<line x1="110.60" y1="292.18" x2="113.20" y2="292.18" stroke="#3a3a3a" stroke-width="0.9" />
<line x1="130.10" y1="328.90" x2="130.10" y2="300.34" stroke="#3a3a3a" stroke-width="0.9" />
<line x1="128.80" y1="328.90" x2="131.40" y2="328.90" stroke="#3a3a3a" stroke-width="0.9" />
<line x1="128.80" y1="300.34" x2="131.40" y2="300.34" stroke="#3a3a3a" stroke-width="0.9" />
<polyline points="57.30,366.64 75.50,300.95 93.70,291.77 111.90,299.73 130.10,314.62" fill="none" stroke="#3a3a3a" stroke-width="1.0" stroke-linejoin="round"/>
<circle cx="57.30" cy="366.64" r="2.3" stroke="#3cc43c" stroke-width="0.9" fill="#fff"/>
<circle cx="75.50" cy="309.11" r="2.3" stroke="#3cc43c" stroke-width="0.9" fill="#fff"/>
<circle cx="93.70" cy="306.87" r="2.3" stroke="#3cc43c" stroke-width="0.9" fill="#fff"/>
<circle cx="111.90" cy="318.70" r="2.3" stroke="#3cc43c" stroke-width="0.9" fill="#fff"/>
<circle cx="130.10" cy="333.39" r="2.3" stroke="#3cc43c" stroke-width="0.9" fill="#fff"/>
<circle cx="57.30" cy="366.64" r="2.3" stroke="#ee3b3b" stroke-width="0.9" fill="#fff"/>
<circle cx="75.50" cy="302.38" r="2.3" stroke="#ee3b3b" stroke-width="0.9" fill="#fff"/>
<circle cx="93.70" cy="301.36" r="2.3" stroke="#ee3b3b" stroke-width="0.9" fill="#fff"/>
<circle cx="111.90" cy="309.11" r="2.3" stroke="#ee3b3b" stroke-width="0.9" fill="#fff"/>
<circle cx="130.10" cy="313.60" r="2.3" stroke="#ee3b3b" stroke-width="0.9" fill="#fff"/>
<circle cx="57.30" cy="366.64" r="2.3" stroke="#3c3cf0" stroke-width="0.9" fill="#fff"/>
<circle cx="75.50" cy="298.30" r="2.3" stroke="#3c3cf0" stroke-width="0.9" fill="#fff"/>
<circle cx="93.70" cy="300.34" r="2.3" stroke="#3c3cf0" stroke-width="0.9" fill="#fff"/>
<circle cx="111.90" cy="316.25" r="2.3" stroke="#3c3cf0" stroke-width="0.9" fill="#fff"/>
<circle cx="130.10" cy="311.56" r="2.3" stroke="#3c3cf0" stroke-width="0.9" fill="#fff"/>
<circle cx="57.30" cy="366.64" r="2.3" stroke="#3a3a3a" stroke-width="0.9" fill="#fff"/>
<circle cx="75.50" cy="300.95" r="2.3" stroke="#3a3a3a" stroke-width="0.9" fill="#fff"/>
<circle cx="93.70" cy="291.77" r="2.3" stroke="#3a3a3a" stroke-width="0.9" fill="#fff"/>
<circle cx="111.90" cy="299.73" r="2.3" stroke="#3a3a3a" stroke-width="0.9" fill="#fff"/>
<circle cx="130.10" cy="314.62" r="2.3" stroke="#3a3a3a" stroke-width="0.9" fill="#fff"/>
<text x="0" y="0" font-size="9" text-anchor="middle" fill="#222" transform="translate(42.40,315.10) rotate(-90)"><tspan>Log</tspan><tspan font-size="6.12" dy="1.53">10</tspan><tspan dy="-1.53"></tspan><tspan> CP/ml</tspan></text>
<line x1="181.50" y1="262.60" x2="181.50" y2="368.60" stroke="#555555" stroke-width="1" />
<line x1="181.50" y1="368.60" x2="254.30" y2="368.60" stroke="#555555" stroke-width="1" />
<line x1="177.50" y1="262.60" x2="181.50" y2="262.60" stroke="#555555" stroke-width="1" />
<text x="176.50" y="264.92" font-size="8" text-anchor="end" font-weight="400" fill="#222" >7</text>
<line x1="177.50" y1="283.00" x2="181.50" y2="283.00" stroke="#555555" stroke-width="1" />
<text x="176.50" y="285.32" font-size="8" text-anchor="end" font-weight="400" fill="#222" >6</text>
<line x1="177.50" y1="303.40" x2="181.50" y2="303.40" stroke="#555555" stroke-width="1" />
<text x="176.50" y="305.72" font-size="8" text-anchor="end" font-weight="400" fill="#222" >5</text>
<line x1="177.50" y1="323.80" x2="181.50" y2="323.80" stroke="#555555" stroke-width="1" />
<text x="176.50" y="326.12" font-size="8" text-anchor="end" font-weight="400" fill="#222" >4</text>
<line x1="177.50" y1="344.20" x2="181.50" y2="344.20" stroke="#555555" stroke-width="1" />
<text x="176.50" y="346.52" font-size="8" text-anchor="end" font-weight="400" fill="#222" >3</text>
<line x1="177.50" y1="364.60" x2="181.50" y2="364.60" stroke="#555555" stroke-width="1" />
<text x="176.50" y="366.92" font-size="8" text-anchor="end" font-weight="400" fill="#222" >2</text>
<line x1="181.50" y1="368.60" x2="181.50" y2="371.80" stroke="#555555" stroke-width="1" />
<text x="181.50" y="380.60" font-size="8" text-anchor="middle" font-weight="400" fill="#222" >56</text>
<line x1="199.70" y1="368.60" x2="199.70" y2="371.80" stroke="#555555" stroke-width="1" />
<text x="199.70" y="380.60" font-size="8" text-anchor="middle" font-weight="400" fill="#222" >57</text>
<line x1="217.90" y1="368.60" x2="217.90" y2="371.80" stroke="#555555" stroke-width="1" />
<text x="217.90" y="380.60" font-size="8" text-anchor="middle" font-weight="400" fill="#222" >58</text>
<line x1="236.10" y1="368.60" x2="236.10" y2="371.80" stroke="#555555" stroke-width="1" />
<text x="236.10" y="380.60" font-size="8" text-anchor="middle" font-weight="400" fill="#222" >59</text>
<line x1="254.30" y1="368.60" x2="254.30" y2="371.80" stroke="#555555" stroke-width="1" />
<text x="254.30" y="380.60" font-size="8" text-anchor="middle" font-weight="400" fill="#222" >60</text>
<text x="217.90" y="392.60" font-size="8.2" text-anchor="middle" font-weight="400" fill="#222" >Day</text>
<line x1="186.80" y1="366.64" x2="254.30" y2="366.64" stroke="#333" stroke-width="1.1" stroke-dasharray="1.1 1.45"/>
<text x="171.00" y="369.64" font-size="8.3" text-anchor="end" font-weight="400" fill="#222" >LLOD</text>
<line x1="199.70" y1="306.46" x2="199.70" y2="294.22" stroke="#3a3a3a" stroke-width="0.9" />
<line x1="198.40" y1="306.46" x2="201.00" y2="306.46" stroke="#3a3a3a" stroke-width="0.9" />
<line x1="198.40" y1="294.22" x2="201.00" y2="294.22" stroke="#3a3a3a" stroke-width="0.9" />
<line x1="217.90" y1="297.28" x2="217.90" y2="286.67" stroke="#3a3a3a" stroke-width="0.9" />
<line x1="216.60" y1="297.28" x2="219.20" y2="297.28" stroke="#3a3a3a" stroke-width="0.9" />
<line x1="216.60" y1="286.67" x2="219.20" y2="286.67" stroke="#3a3a3a" stroke-width="0.9" />
<line x1="236.10" y1="306.46" x2="236.10" y2="292.18" stroke="#3a3a3a" stroke-width="0.9" />
<line x1="234.80" y1="306.46" x2="237.40" y2="306.46" stroke="#3a3a3a" stroke-width="0.9" />
<line x1="234.80" y1="292.18" x2="237.40" y2="292.18" stroke="#3a3a3a" stroke-width="0.9" />
<line x1="254.30" y1="328.90" x2="254.30" y2="300.34" stroke="#3a3a3a" stroke-width="0.9" />
<line x1="253.00" y1="328.90" x2="255.60" y2="328.90" stroke="#3a3a3a" stroke-width="0.9" />
<line x1="253.00" y1="300.34" x2="255.60" y2="300.34" stroke="#3a3a3a" stroke-width="0.9" />
<polyline points="181.50,366.64 199.70,300.95 217.90,291.77 236.10,299.73 254.30,314.62" fill="none" stroke="#3a3a3a" stroke-width="1.0" stroke-linejoin="round"/>
<line x1="199.70" y1="311.56" x2="199.70" y2="301.36" stroke="#f5a23a" stroke-width="0.9" />
<line x1="198.40" y1="311.56" x2="201.00" y2="311.56" stroke="#f5a23a" stroke-width="0.9" />
<line x1="198.40" y1="301.36" x2="201.00" y2="301.36" stroke="#f5a23a" stroke-width="0.9" />
<line x1="217.90" y1="312.58" x2="217.90" y2="302.38" stroke="#f5a23a" stroke-width="0.9" />
<line x1="216.60" y1="312.58" x2="219.20" y2="312.58" stroke="#f5a23a" stroke-width="0.9" />
<line x1="216.60" y1="302.38" x2="219.20" y2="302.38" stroke="#f5a23a" stroke-width="0.9" />
<line x1="236.10" y1="325.84" x2="236.10" y2="307.48" stroke="#f5a23a" stroke-width="0.9" />
<line x1="234.80" y1="325.84" x2="237.40" y2="325.84" stroke="#f5a23a" stroke-width="0.9" />
<line x1="234.80" y1="307.48" x2="237.40" y2="307.48" stroke="#f5a23a" stroke-width="0.9" />
<line x1="254.30" y1="334.00" x2="254.30" y2="321.76" stroke="#f5a23a" stroke-width="0.9" />
<line x1="253.00" y1="334.00" x2="255.60" y2="334.00" stroke="#f5a23a" stroke-width="0.9" />
<line x1="253.00" y1="321.76" x2="255.60" y2="321.76" stroke="#f5a23a" stroke-width="0.9" />
<polyline points="181.50,366.64 199.70,305.85 217.90,307.48 236.10,316.66 254.30,327.47" fill="none" stroke="#f5a23a" stroke-width="1.0" stroke-linejoin="round"/>
<line x1="199.70" y1="317.68" x2="199.70" y2="305.44" stroke="#b042e8" stroke-width="0.9" />
<line x1="198.40" y1="317.68" x2="201.00" y2="317.68" stroke="#b042e8" stroke-width="0.9" />
<line x1="198.40" y1="305.44" x2="201.00" y2="305.44" stroke="#b042e8" stroke-width="0.9" />
<line x1="217.90" y1="313.60" x2="217.90" y2="295.24" stroke="#b042e8" stroke-width="0.9" />
<line x1="216.60" y1="313.60" x2="219.20" y2="313.60" stroke="#b042e8" stroke-width="0.9" />
<line x1="216.60" y1="295.24" x2="219.20" y2="295.24" stroke="#b042e8" stroke-width="0.9" />
<line x1="236.10" y1="337.06" x2="236.10" y2="317.68" stroke="#b042e8" stroke-width="0.9" />
<line x1="234.80" y1="337.06" x2="237.40" y2="337.06" stroke="#b042e8" stroke-width="0.9" />
<line x1="234.80" y1="317.68" x2="237.40" y2="317.68" stroke="#b042e8" stroke-width="0.9" />
<line x1="254.30" y1="353.38" x2="254.30" y2="309.52" stroke="#b042e8" stroke-width="0.9" />
<line x1="253.00" y1="353.38" x2="255.60" y2="353.38" stroke="#b042e8" stroke-width="0.9" />
<line x1="253.00" y1="309.52" x2="255.60" y2="309.52" stroke="#b042e8" stroke-width="0.9" />
<polyline points="181.50,366.64 199.70,311.15 217.90,304.01 236.10,326.86 254.30,331.55" fill="none" stroke="#b042e8" stroke-width="1.0" stroke-linejoin="round"/>
<circle cx="181.50" cy="366.64" r="2.3" stroke="#3a3a3a" stroke-width="0.9" fill="#fff"/>
<circle cx="199.70" cy="300.95" r="2.3" stroke="#3a3a3a" stroke-width="0.9" fill="#fff"/>
<circle cx="217.90" cy="291.77" r="2.3" stroke="#3a3a3a" stroke-width="0.9" fill="#fff"/>
<circle cx="236.10" cy="299.73" r="2.3" stroke="#3a3a3a" stroke-width="0.9" fill="#fff"/>
<circle cx="254.30" cy="314.62" r="2.3" stroke="#3a3a3a" stroke-width="0.9" fill="#fff"/>
<circle cx="181.50" cy="366.64" r="2.3" stroke="#f5a23a" stroke-width="0.9" fill="#fff"/>
<circle cx="199.70" cy="305.85" r="2.3" stroke="#f5a23a" stroke-width="0.9" fill="#fff"/>
<circle cx="217.90" cy="307.48" r="2.3" stroke="#f5a23a" stroke-width="0.9" fill="#fff"/>
<circle cx="236.10" cy="316.66" r="2.3" stroke="#f5a23a" stroke-width="0.9" fill="#fff"/>
<circle cx="254.30" cy="327.47" r="2.3" stroke="#f5a23a" stroke-width="0.9" fill="#fff"/>
<circle cx="181.50" cy="366.64" r="2.3" stroke="#b042e8" stroke-width="0.9" fill="#fff"/>
<circle cx="199.70" cy="311.15" r="2.3" stroke="#b042e8" stroke-width="0.9" fill="#fff"/>
<circle cx="217.90" cy="304.01" r="2.3" stroke="#b042e8" stroke-width="0.9" fill="#fff"/>
<circle cx="236.10" cy="326.86" r="2.3" stroke="#b042e8" stroke-width="0.9" fill="#fff"/>
<circle cx="254.30" cy="331.55" r="2.3" stroke="#b042e8" stroke-width="0.9" fill="#fff"/>
<text x="0" y="0" font-size="9" text-anchor="middle" fill="#222" transform="translate(166.60,315.10) rotate(-90)"><tspan>Log</tspan><tspan font-size="6.12" dy="1.53">10</tspan><tspan dy="-1.53"></tspan><tspan> CP/ml</tspan></text>
<line x1="334.80" y1="262.96" x2="334.80" y2="368.60" stroke="#555555" stroke-width="1" />
<line x1="334.80" y1="368.60" x2="408.40" y2="368.60" stroke="#555555" stroke-width="1" />
<line x1="330.80" y1="276.20" x2="334.80" y2="276.20" stroke="#555555" stroke-width="1" />
<text x="329.80" y="278.52" font-size="8" text-anchor="end" font-weight="400" fill="#222" >2.0</text>
<line x1="330.80" y1="309.30" x2="334.80" y2="309.30" stroke="#555555" stroke-width="1" />
<text x="329.80" y="311.62" font-size="8" text-anchor="end" font-weight="400" fill="#222" >1.5</text>
<line x1="330.80" y1="342.40" x2="334.80" y2="342.40" stroke="#555555" stroke-width="1" />
<text x="329.80" y="344.72" font-size="8" text-anchor="end" font-weight="400" fill="#222" >1.0</text>
<line x1="334.80" y1="368.60" x2="334.80" y2="371.80" stroke="#555555" stroke-width="1" />
<text x="334.80" y="381.60" font-size="8" text-anchor="middle" font-weight="400" fill="#222" >56</text>
<line x1="353.20" y1="368.60" x2="353.20" y2="371.80" stroke="#555555" stroke-width="1" />
<text x="353.20" y="381.60" font-size="8" text-anchor="middle" font-weight="400" fill="#222" >57</text>
<line x1="371.60" y1="368.60" x2="371.60" y2="371.80" stroke="#555555" stroke-width="1" />
<text x="371.60" y="381.60" font-size="8" text-anchor="middle" font-weight="400" fill="#222" >58</text>
<line x1="390.00" y1="368.60" x2="390.00" y2="371.80" stroke="#555555" stroke-width="1" />
<text x="390.00" y="381.60" font-size="8" text-anchor="middle" font-weight="400" fill="#222" >59</text>
<line x1="408.40" y1="368.60" x2="408.40" y2="371.80" stroke="#555555" stroke-width="1" />
<text x="408.40" y="381.60" font-size="8" text-anchor="middle" font-weight="400" fill="#222" >60</text>
<text x="371.60" y="393.60" font-size="8.2" text-anchor="middle" font-weight="400" fill="#222" >Day</text>
<line x1="353.20" y1="335.78" x2="353.20" y2="302.68" stroke="#3cc43c" stroke-width="0.9" />
<line x1="351.90" y1="335.78" x2="354.50" y2="335.78" stroke="#3cc43c" stroke-width="0.9" />
<line x1="351.90" y1="302.68" x2="354.50" y2="302.68" stroke="#3cc43c" stroke-width="0.9" />
<line x1="371.60" y1="355.64" x2="371.60" y2="339.09" stroke="#3cc43c" stroke-width="0.9" />
<line x1="370.30" y1="355.64" x2="372.90" y2="355.64" stroke="#3cc43c" stroke-width="0.9" />
<line x1="370.30" y1="339.09" x2="372.90" y2="339.09" stroke="#3cc43c" stroke-width="0.9" />
<polyline points="334.80,355.64 353.20,319.23 371.60,347.70 390.00,355.64 408.40,355.64" fill="none" stroke="#3cc43c" stroke-width="1.0" stroke-linejoin="round"/>
<line x1="353.20" y1="342.40" x2="353.20" y2="302.68" stroke="#3a3a3a" stroke-width="0.9" />
<line x1="351.90" y1="342.40" x2="354.50" y2="342.40" stroke="#3a3a3a" stroke-width="0.9" />
<line x1="351.90" y1="302.68" x2="354.50" y2="302.68" stroke="#3a3a3a" stroke-width="0.9" />
<line x1="371.60" y1="322.54" x2="371.60" y2="296.06" stroke="#3a3a3a" stroke-width="0.9" />
<line x1="370.30" y1="322.54" x2="372.90" y2="322.54" stroke="#3a3a3a" stroke-width="0.9" />
<line x1="370.30" y1="296.06" x2="372.90" y2="296.06" stroke="#3a3a3a" stroke-width="0.9" />
<line x1="390.00" y1="356.96" x2="390.00" y2="347.70" stroke="#3a3a3a" stroke-width="0.9" />
<line x1="388.70" y1="356.96" x2="391.30" y2="356.96" stroke="#3a3a3a" stroke-width="0.9" />
<line x1="388.70" y1="347.70" x2="391.30" y2="347.70" stroke="#3a3a3a" stroke-width="0.9" />
<polyline points="334.80,355.64 353.20,322.54 371.60,309.30 390.00,352.33 408.40,355.64" fill="none" stroke="#3a3a3a" stroke-width="1.0" stroke-linejoin="round"/>
<line x1="353.20" y1="329.16" x2="353.20" y2="292.75" stroke="#ee3b3b" stroke-width="0.9" />
<line x1="351.90" y1="329.16" x2="354.50" y2="329.16" stroke="#ee3b3b" stroke-width="0.9" />
<line x1="351.90" y1="292.75" x2="354.50" y2="292.75" stroke="#ee3b3b" stroke-width="0.9" />
<line x1="371.60" y1="358.95" x2="371.60" y2="309.30" stroke="#ee3b3b" stroke-width="0.9" />
<line x1="370.30" y1="358.95" x2="372.90" y2="358.95" stroke="#ee3b3b" stroke-width="0.9" />
<line x1="370.30" y1="309.30" x2="372.90" y2="309.30" stroke="#ee3b3b" stroke-width="0.9" />
<line x1="390.00" y1="356.96" x2="390.00" y2="343.72" stroke="#ee3b3b" stroke-width="0.9" />
<line x1="388.70" y1="356.96" x2="391.30" y2="356.96" stroke="#ee3b3b" stroke-width="0.9" />
<line x1="388.70" y1="343.72" x2="391.30" y2="343.72" stroke="#ee3b3b" stroke-width="0.9" />
<polyline points="334.80,355.64 353.20,311.29 371.60,337.10 390.00,350.34 408.40,355.64" fill="none" stroke="#ee3b3b" stroke-width="1.0" stroke-linejoin="round"/>
<line x1="353.20" y1="309.30" x2="353.20" y2="271.57" stroke="#3c3cf0" stroke-width="0.9" />
<line x1="351.90" y1="309.30" x2="354.50" y2="309.30" stroke="#3c3cf0" stroke-width="0.9" />
<line x1="351.90" y1="271.57" x2="354.50" y2="271.57" stroke="#3c3cf0" stroke-width="0.9" />
<line x1="371.60" y1="322.54" x2="371.60" y2="296.06" stroke="#3c3cf0" stroke-width="0.9" />
<line x1="370.30" y1="322.54" x2="372.90" y2="322.54" stroke="#3c3cf0" stroke-width="0.9" />
<line x1="370.30" y1="296.06" x2="372.90" y2="296.06" stroke="#3c3cf0" stroke-width="0.9" />
<line x1="390.00" y1="358.29" x2="390.00" y2="349.02" stroke="#3c3cf0" stroke-width="0.9" />
<line x1="388.70" y1="358.29" x2="391.30" y2="358.29" stroke="#3c3cf0" stroke-width="0.9" />
<line x1="388.70" y1="349.02" x2="391.30" y2="349.02" stroke="#3c3cf0" stroke-width="0.9" />
<polyline points="334.80,355.64 353.20,290.76 371.60,307.98 390.00,353.65 408.40,355.64" fill="none" stroke="#3c3cf0" stroke-width="1.0" stroke-linejoin="round"/>
<circle cx="334.80" cy="355.64" r="2.3" stroke="#3cc43c" stroke-width="0.9" fill="#fff"/>
<circle cx="353.20" cy="319.23" r="2.3" stroke="#3cc43c" stroke-width="0.9" fill="#fff"/>
<circle cx="371.60" cy="347.70" r="2.3" stroke="#3cc43c" stroke-width="0.9" fill="#fff"/>
<circle cx="390.00" cy="355.64" r="2.3" stroke="#3cc43c" stroke-width="0.9" fill="#fff"/>
<circle cx="408.40" cy="355.64" r="2.3" stroke="#3cc43c" stroke-width="0.9" fill="#fff"/>
<circle cx="334.80" cy="355.64" r="2.3" stroke="#3a3a3a" stroke-width="0.9" fill="#fff"/>
<circle cx="353.20" cy="322.54" r="2.3" stroke="#3a3a3a" stroke-width="0.9" fill="#fff"/>
<circle cx="371.60" cy="309.30" r="2.3" stroke="#3a3a3a" stroke-width="0.9" fill="#fff"/>
<circle cx="390.00" cy="352.33" r="2.3" stroke="#3a3a3a" stroke-width="0.9" fill="#fff"/>
<circle cx="408.40" cy="355.64" r="2.3" stroke="#3a3a3a" stroke-width="0.9" fill="#fff"/>
<circle cx="334.80" cy="355.64" r="2.3" stroke="#ee3b3b" stroke-width="0.9" fill="#fff"/>
<circle cx="353.20" cy="311.29" r="2.3" stroke="#ee3b3b" stroke-width="0.9" fill="#fff"/>
<circle cx="371.60" cy="337.10" r="2.3" stroke="#ee3b3b" stroke-width="0.9" fill="#fff"/>
<circle cx="390.00" cy="350.34" r="2.3" stroke="#ee3b3b" stroke-width="0.9" fill="#fff"/>
<circle cx="408.40" cy="355.64" r="2.3" stroke="#ee3b3b" stroke-width="0.9" fill="#fff"/>
<circle cx="334.80" cy="355.64" r="2.3" stroke="#3c3cf0" stroke-width="0.9" fill="#fff"/>
<circle cx="353.20" cy="290.76" r="2.3" stroke="#3c3cf0" stroke-width="0.9" fill="#fff"/>
<circle cx="371.60" cy="307.98" r="2.3" stroke="#3c3cf0" stroke-width="0.9" fill="#fff"/>
<circle cx="390.00" cy="353.65" r="2.3" stroke="#3c3cf0" stroke-width="0.9" fill="#fff"/>
<circle cx="408.40" cy="355.64" r="2.3" stroke="#3c3cf0" stroke-width="0.9" fill="#fff"/>
<text x="0" y="0" font-size="8.6" text-anchor="middle" fill="#222" transform="translate(313.20,314.20) rotate(-90)"><tspan>Log10 TCID50/ml</tspan></text>
<line x1="459.20" y1="262.96" x2="459.20" y2="368.60" stroke="#555555" stroke-width="1" />
<line x1="459.20" y1="368.60" x2="532.60" y2="368.60" stroke="#555555" stroke-width="1" />
<line x1="455.20" y1="276.20" x2="459.20" y2="276.20" stroke="#555555" stroke-width="1" />
<text x="454.20" y="278.52" font-size="8" text-anchor="end" font-weight="400" fill="#222" >2.0</text>
<line x1="455.20" y1="309.30" x2="459.20" y2="309.30" stroke="#555555" stroke-width="1" />
<text x="454.20" y="311.62" font-size="8" text-anchor="end" font-weight="400" fill="#222" >1.5</text>
<line x1="455.20" y1="342.40" x2="459.20" y2="342.40" stroke="#555555" stroke-width="1" />
<text x="454.20" y="344.72" font-size="8" text-anchor="end" font-weight="400" fill="#222" >1.0</text>
<line x1="459.20" y1="368.60" x2="459.20" y2="371.80" stroke="#555555" stroke-width="1" />
<text x="459.20" y="381.60" font-size="8" text-anchor="middle" font-weight="400" fill="#222" >56</text>
<line x1="477.55" y1="368.60" x2="477.55" y2="371.80" stroke="#555555" stroke-width="1" />
<text x="477.55" y="381.60" font-size="8" text-anchor="middle" font-weight="400" fill="#222" >57</text>
<line x1="495.90" y1="368.60" x2="495.90" y2="371.80" stroke="#555555" stroke-width="1" />
<text x="495.90" y="381.60" font-size="8" text-anchor="middle" font-weight="400" fill="#222" >58</text>
<line x1="514.25" y1="368.60" x2="514.25" y2="371.80" stroke="#555555" stroke-width="1" />
<text x="514.25" y="381.60" font-size="8" text-anchor="middle" font-weight="400" fill="#222" >59</text>
<line x1="532.60" y1="368.60" x2="532.60" y2="371.80" stroke="#555555" stroke-width="1" />
<text x="532.60" y="381.60" font-size="8" text-anchor="middle" font-weight="400" fill="#222" >60</text>
<text x="495.90" y="393.60" font-size="8.2" text-anchor="middle" font-weight="400" fill="#222" >Day</text>
<line x1="477.55" y1="342.40" x2="477.55" y2="301.36" stroke="#3a3a3a" stroke-width="0.9" />
<line x1="476.25" y1="342.40" x2="478.85" y2="342.40" stroke="#3a3a3a" stroke-width="0.9" />
<line x1="476.25" y1="301.36" x2="478.85" y2="301.36" stroke="#3a3a3a" stroke-width="0.9" />
<line x1="514.25" y1="355.64" x2="514.25" y2="343.72" stroke="#3a3a3a" stroke-width="0.9" />
<line x1="512.95" y1="355.64" x2="515.55" y2="355.64" stroke="#3a3a3a" stroke-width="0.9" />
<line x1="512.95" y1="343.72" x2="515.55" y2="343.72" stroke="#3a3a3a" stroke-width="0.9" />
<polyline points="459.20,355.64 477.55,321.22 495.90,309.30 514.25,350.34 532.60,355.64" fill="none" stroke="#3a3a3a" stroke-width="1.0" stroke-linejoin="round"/>
<line x1="477.55" y1="335.78" x2="477.55" y2="290.10" stroke="#f5a23a" stroke-width="0.9" />
<line x1="476.25" y1="335.78" x2="478.85" y2="335.78" stroke="#f5a23a" stroke-width="0.9" />
<line x1="476.25" y1="290.10" x2="478.85" y2="290.10" stroke="#f5a23a" stroke-width="0.9" />
<polyline points="459.20,355.64 477.55,315.26 495.90,347.03 514.25,355.64 532.60,355.64" fill="none" stroke="#f5a23a" stroke-width="1.0" stroke-linejoin="round"/>
<line x1="477.55" y1="355.64" x2="477.55" y2="301.36" stroke="#b042e8" stroke-width="0.9" />
<line x1="476.25" y1="355.64" x2="478.85" y2="355.64" stroke="#b042e8" stroke-width="0.9" />
<line x1="476.25" y1="301.36" x2="478.85" y2="301.36" stroke="#b042e8" stroke-width="0.9" />
<line x1="495.90" y1="368.88" x2="495.90" y2="325.85" stroke="#b042e8" stroke-width="0.9" />
<line x1="494.60" y1="368.88" x2="497.20" y2="368.88" stroke="#b042e8" stroke-width="0.9" />
<line x1="494.60" y1="325.85" x2="497.20" y2="325.85" stroke="#b042e8" stroke-width="0.9" />
<polyline points="459.20,355.64 477.55,328.50 495.90,346.37 514.25,355.64 532.60,355.64" fill="none" stroke="#b042e8" stroke-width="1.0" stroke-linejoin="round"/>
<circle cx="459.20" cy="355.64" r="2.3" stroke="#3a3a3a" stroke-width="0.9" fill="#fff"/>
<circle cx="477.55" cy="321.22" r="2.3" stroke="#3a3a3a" stroke-width="0.9" fill="#fff"/>
<circle cx="495.90" cy="309.30" r="2.3" stroke="#3a3a3a" stroke-width="0.9" fill="#fff"/>
<circle cx="514.25" cy="350.34" r="2.3" stroke="#3a3a3a" stroke-width="0.9" fill="#fff"/>
<circle cx="532.60" cy="355.64" r="2.3" stroke="#3a3a3a" stroke-width="0.9" fill="#fff"/>
<circle cx="459.20" cy="355.64" r="2.3" stroke="#f5a23a" stroke-width="0.9" fill="#fff"/>
<circle cx="477.55" cy="315.26" r="2.3" stroke="#f5a23a" stroke-width="0.9" fill="#fff"/>
<circle cx="495.90" cy="347.03" r="2.3" stroke="#f5a23a" stroke-width="0.9" fill="#fff"/>
<circle cx="514.25" cy="355.64" r="2.3" stroke="#f5a23a" stroke-width="0.9" fill="#fff"/>
<circle cx="532.60" cy="355.64" r="2.3" stroke="#f5a23a" stroke-width="0.9" fill="#fff"/>
<circle cx="459.20" cy="355.64" r="2.3" stroke="#b042e8" stroke-width="0.9" fill="#fff"/>
<circle cx="477.55" cy="328.50" r="2.3" stroke="#b042e8" stroke-width="0.9" fill="#fff"/>
<circle cx="495.90" cy="346.37" r="2.3" stroke="#b042e8" stroke-width="0.9" fill="#fff"/>
<circle cx="514.25" cy="355.64" r="2.3" stroke="#b042e8" stroke-width="0.9" fill="#fff"/>
<circle cx="532.60" cy="355.64" r="2.3" stroke="#b042e8" stroke-width="0.9" fill="#fff"/>
<text x="0" y="0" font-size="8.6" text-anchor="middle" fill="#222" transform="translate(437.40,314.20) rotate(-90)"><tspan>Log10 TCID50/ml</tspan></text>
<text x="91.00" y="436.60" font-size="10.2" text-anchor="middle" font-weight="400" fill="#222" >qPCR lung</text>
<text x="91.00" y="447.60" font-size="10.2" text-anchor="middle" font-weight="400" fill="#222" >(Delta)</text>
<rect x="92.00" y="485.60" width="21.00" height="103.00" fill="#e2e2e2"/>
<line x1="57.10" y1="486.60" x2="57.10" y2="588.60" stroke="#555555" stroke-width="1" />
<line x1="57.10" y1="588.60" x2="125.00" y2="588.60" stroke="#555555" stroke-width="1" />
<line x1="53.10" y1="486.60" x2="57.10" y2="486.60" stroke="#555555" stroke-width="1" />
<text x="52.10" y="488.92" font-size="8" text-anchor="end" font-weight="400" fill="#222" >11</text>
<line x1="53.10" y1="499.35" x2="57.10" y2="499.35" stroke="#555555" stroke-width="1" />
<text x="52.10" y="501.67" font-size="8" text-anchor="end" font-weight="400" fill="#222" >10</text>
<line x1="53.10" y1="512.10" x2="57.10" y2="512.10" stroke="#555555" stroke-width="1" />
<text x="52.10" y="514.42" font-size="8" text-anchor="end" font-weight="400" fill="#222" >9</text>
<line x1="53.10" y1="524.85" x2="57.10" y2="524.85" stroke="#555555" stroke-width="1" />
<text x="52.10" y="527.17" font-size="8" text-anchor="end" font-weight="400" fill="#222" >8</text>
<line x1="53.10" y1="537.60" x2="57.10" y2="537.60" stroke="#555555" stroke-width="1" />
<text x="52.10" y="539.92" font-size="8" text-anchor="end" font-weight="400" fill="#222" >7</text>
<line x1="53.10" y1="550.35" x2="57.10" y2="550.35" stroke="#555555" stroke-width="1" />
<text x="52.10" y="552.67" font-size="8" text-anchor="end" font-weight="400" fill="#222" >6</text>
<line x1="53.10" y1="563.10" x2="57.10" y2="563.10" stroke="#555555" stroke-width="1" />
<text x="52.10" y="565.42" font-size="8" text-anchor="end" font-weight="400" fill="#222" >5</text>
<line x1="53.10" y1="575.85" x2="57.10" y2="575.85" stroke="#555555" stroke-width="1" />
<text x="52.10" y="578.17" font-size="8" text-anchor="end" font-weight="400" fill="#222" >4</text>
<line x1="53.10" y1="588.60" x2="57.10" y2="588.60" stroke="#555555" stroke-width="1" />
<text x="52.10" y="590.92" font-size="8" text-anchor="end" font-weight="400" fill="#222" >3</text>
<line x1="64.40" y1="458.00" x2="118.40" y2="458.00" stroke="#9a9a9a" stroke-width="0.9" />
<circle cx="87.50" cy="455.20" r="0.95" fill="#2a2a2a"/>
<circle cx="90.10" cy="455.20" r="0.95" fill="#2a2a2a"/>
<circle cx="92.70" cy="455.20" r="0.95" fill="#2a2a2a"/>
<circle cx="95.30" cy="455.20" r="0.95" fill="#2a2a2a"/>
<line x1="75.20" y1="464.40" x2="118.40" y2="464.40" stroke="#9a9a9a" stroke-width="0.9" />
<circle cx="92.90" cy="461.60" r="0.95" fill="#2a2a2a"/>
<circle cx="95.50" cy="461.60" r="0.95" fill="#2a2a2a"/>
<circle cx="98.10" cy="461.60" r="0.95" fill="#2a2a2a"/>
<circle cx="100.70" cy="461.60" r="0.95" fill="#2a2a2a"/>
<line x1="86.00" y1="471.00" x2="118.40" y2="471.00" stroke="#9a9a9a" stroke-width="0.9" />
<circle cx="102.20" cy="468.20" r="0.95" fill="#2a2a2a"/>
<line x1="96.80" y1="477.40" x2="118.40" y2="477.40" stroke="#9a9a9a" stroke-width="0.9" />
<circle cx="105.00" cy="474.60" r="0.95" fill="#2a2a2a"/>
<circle cx="107.60" cy="474.60" r="0.95" fill="#2a2a2a"/>
<circle cx="110.20" cy="474.60" r="0.95" fill="#2a2a2a"/>
<line x1="107.60" y1="484.00" x2="118.40" y2="484.00" stroke="#9a9a9a" stroke-width="0.9" />
<circle cx="109.10" cy="481.20" r="0.95" fill="#2a2a2a"/>
<circle cx="111.70" cy="481.20" r="0.95" fill="#2a2a2a"/>
<circle cx="114.30" cy="481.20" r="0.95" fill="#2a2a2a"/>
<circle cx="116.90" cy="481.20" r="0.95" fill="#2a2a2a"/>
<line x1="64.40" y1="485.60" x2="86.00" y2="485.60" stroke="#9a9a9a" stroke-width="0.9" />
<circle cx="72.60" cy="482.80" r="0.95" fill="#2a2a2a"/>
<circle cx="75.20" cy="482.80" r="0.95" fill="#2a2a2a"/>
<circle cx="77.80" cy="482.80" r="0.95" fill="#2a2a2a"/>
<line x1="64.40" y1="492.40" x2="96.80" y2="492.40" stroke="#9a9a9a" stroke-width="0.9" />
<circle cx="79.30" cy="489.60" r="0.95" fill="#2a2a2a"/>
<circle cx="81.90" cy="489.60" r="0.95" fill="#2a2a2a"/>
<line x1="86.00" y1="499.00" x2="107.60" y2="499.00" stroke="#9a9a9a" stroke-width="0.9" />
<circle cx="96.80" cy="496.20" r="0.95" fill="#2a2a2a"/>
<line x1="75.20" y1="505.60" x2="86.00" y2="505.60" stroke="#9a9a9a" stroke-width="0.9" />
<circle cx="80.60" cy="502.80" r="0.95" fill="#2a2a2a"/>
<line x1="64.40" y1="558.00" x2="64.40" y2="545.89" stroke="#3c3cf0" stroke-width="0.9" />
<line x1="62.80" y1="558.00" x2="66.00" y2="558.00" stroke="#3c3cf0" stroke-width="0.9" />
<line x1="62.80" y1="545.89" x2="66.00" y2="545.89" stroke="#3c3cf0" stroke-width="0.9" />
<circle cx="64.40" cy="541.43" r="2.25" stroke="#3c3cf0" stroke-width="0.9" fill="#fff"/>
<circle cx="62.60" cy="552.90" r="2.25" stroke="#3c3cf0" stroke-width="0.9" fill="#fff"/>
<circle cx="66.20" cy="553.54" r="2.25" stroke="#3c3cf0" stroke-width="0.9" fill="#fff"/>
<circle cx="64.40" cy="556.09" r="2.25" stroke="#3c3cf0" stroke-width="0.9" fill="#fff"/>
<circle cx="64.40" cy="560.55" r="2.25" stroke="#3c3cf0" stroke-width="0.9" fill="#fff"/>
<line x1="60.80" y1="552.26" x2="68.00" y2="552.26" stroke="#3c3cf0" stroke-width="1.9" />
<line x1="75.20" y1="557.36" x2="75.20" y2="523.58" stroke="#ee3b3b" stroke-width="0.9" />
<line x1="73.60" y1="557.36" x2="76.80" y2="557.36" stroke="#ee3b3b" stroke-width="0.9" />
<line x1="73.60" y1="523.58" x2="76.80" y2="523.58" stroke="#ee3b3b" stroke-width="0.9" />
<circle cx="75.20" cy="522.30" r="2.25" stroke="#ee3b3b" stroke-width="0.9" fill="#fff"/>
<circle cx="75.20" cy="529.95" r="2.25" stroke="#ee3b3b" stroke-width="0.9" fill="#fff"/>
<circle cx="75.20" cy="537.60" r="2.25" stroke="#ee3b3b" stroke-width="0.9" fill="#fff"/>
<circle cx="75.20" cy="550.35" r="2.25" stroke="#ee3b3b" stroke-width="0.9" fill="#fff"/>
<circle cx="75.20" cy="563.10" r="2.25" stroke="#ee3b3b" stroke-width="0.9" fill="#fff"/>
<line x1="71.60" y1="540.40" x2="78.80" y2="540.40" stroke="#ee3b3b" stroke-width="1.9" />
<line x1="86.00" y1="524.21" x2="86.00" y2="517.20" stroke="#3cc43c" stroke-width="0.9" />
<line x1="84.40" y1="524.21" x2="87.60" y2="524.21" stroke="#3cc43c" stroke-width="0.9" />
<line x1="84.40" y1="517.20" x2="87.60" y2="517.20" stroke="#3cc43c" stroke-width="0.9" />
<circle cx="84.20" cy="513.38" r="2.25" stroke="#3cc43c" stroke-width="0.9" fill="#fff"/>
<circle cx="87.80" cy="513.38" r="2.25" stroke="#3cc43c" stroke-width="0.9" fill="#fff"/>
<circle cx="84.20" cy="521.02" r="2.25" stroke="#3cc43c" stroke-width="0.9" fill="#fff"/>
<circle cx="87.80" cy="521.02" r="2.25" stroke="#3cc43c" stroke-width="0.9" fill="#fff"/>
<circle cx="86.00" cy="525.49" r="2.25" stroke="#3cc43c" stroke-width="0.9" fill="#fff"/>
<line x1="82.40" y1="520.39" x2="89.60" y2="520.39" stroke="#3cc43c" stroke-width="1.9" />
<line x1="96.80" y1="536.33" x2="96.80" y2="521.02" stroke="#b042e8" stroke-width="0.9" />
<line x1="95.20" y1="536.33" x2="98.40" y2="536.33" stroke="#b042e8" stroke-width="0.9" />
<line x1="95.20" y1="521.02" x2="98.40" y2="521.02" stroke="#b042e8" stroke-width="0.9" />
<circle cx="96.80" cy="519.75" r="2.25" stroke="#b042e8" stroke-width="0.9" fill="#fff"/>
<circle cx="94.90" cy="527.40" r="2.25" stroke="#b042e8" stroke-width="0.9" fill="#fff"/>
<circle cx="98.70" cy="527.40" r="2.25" stroke="#b042e8" stroke-width="0.9" fill="#fff"/>
<circle cx="96.80" cy="529.95" r="2.25" stroke="#b042e8" stroke-width="0.9" fill="#fff"/>
<circle cx="96.80" cy="540.15" r="2.25" stroke="#b042e8" stroke-width="0.9" fill="#fff"/>
<line x1="93.20" y1="528.68" x2="100.40" y2="528.68" stroke="#b042e8" stroke-width="1.9" />
<line x1="107.60" y1="551.62" x2="107.60" y2="532.50" stroke="#f5a23a" stroke-width="0.9" />
<line x1="106.00" y1="551.62" x2="109.20" y2="551.62" stroke="#f5a23a" stroke-width="0.9" />
<line x1="106.00" y1="532.50" x2="109.20" y2="532.50" stroke="#f5a23a" stroke-width="0.9" />
<circle cx="105.80" cy="529.95" r="2.25" stroke="#f5a23a" stroke-width="0.9" fill="#fff"/>
<circle cx="109.40" cy="532.50" r="2.25" stroke="#f5a23a" stroke-width="0.9" fill="#fff"/>
<circle cx="105.80" cy="545.89" r="2.25" stroke="#f5a23a" stroke-width="0.9" fill="#fff"/>
<circle cx="109.40" cy="545.89" r="2.25" stroke="#f5a23a" stroke-width="0.9" fill="#fff"/>
<circle cx="107.60" cy="555.45" r="2.25" stroke="#f5a23a" stroke-width="0.9" fill="#fff"/>
<line x1="104.00" y1="542.06" x2="111.20" y2="542.06" stroke="#f5a23a" stroke-width="1.9" />
<line x1="118.40" y1="502.54" x2="118.40" y2="494.25" stroke="#3a3a3a" stroke-width="0.9" />
<line x1="116.80" y1="502.54" x2="120.00" y2="502.54" stroke="#3a3a3a" stroke-width="0.9" />
<line x1="116.80" y1="494.25" x2="120.00" y2="494.25" stroke="#3a3a3a" stroke-width="0.9" />
<circle cx="116.80" cy="490.94" r="2.25" stroke="#3a3a3a" stroke-width="0.9" fill="#fff"/>
<circle cx="120.00" cy="495.02" r="2.25" stroke="#3a3a3a" stroke-width="0.9" fill="#fff"/>
<circle cx="116.80" cy="499.35" r="2.25" stroke="#3a3a3a" stroke-width="0.9" fill="#fff"/>
<circle cx="120.00" cy="499.35" r="2.25" stroke="#3a3a3a" stroke-width="0.9" fill="#fff"/>
<circle cx="116.80" cy="504.20" r="2.25" stroke="#3a3a3a" stroke-width="0.9" fill="#fff"/>
<circle cx="120.00" cy="504.20" r="2.25" stroke="#3a3a3a" stroke-width="0.9" fill="#fff"/>
<line x1="114.80" y1="498.71" x2="122.00" y2="498.71" stroke="#3a3a3a" stroke-width="1.9" />
<text x="0" y="0" font-size="8.7" text-anchor="middle" fill="#222" transform="translate(37.60,537.80) rotate(-90)"><tspan>Log</tspan><tspan font-size="5.92" dy="1.48">10</tspan><tspan dy="-1.48"></tspan><tspan> CP/g</tspan></text>
<text x="217.00" y="436.70" font-size="10.2" text-anchor="middle" font-weight="400" fill="#222" >qPCR nasal turbinate</text>
<text x="217.00" y="447.70" font-size="10.2" text-anchor="middle" font-weight="400" fill="#222" >(Delta)</text>
<rect x="218.00" y="481.00" width="21.60" height="108.20" fill="#e2e2e2"/>
<line x1="181.50" y1="483.00" x2="181.50" y2="589.20" stroke="#555555" stroke-width="1" />
<line x1="181.50" y1="589.20" x2="252.40" y2="589.20" stroke="#555555" stroke-width="1" />
<line x1="177.50" y1="483.00" x2="181.50" y2="483.00" stroke="#555555" stroke-width="1" />
<text x="176.50" y="485.32" font-size="8" text-anchor="end" font-weight="400" fill="#222" >12</text>
<line x1="177.50" y1="509.65" x2="181.50" y2="509.65" stroke="#555555" stroke-width="1" />
<text x="176.50" y="511.97" font-size="8" text-anchor="end" font-weight="400" fill="#222" >11</text>
<line x1="177.50" y1="536.30" x2="181.50" y2="536.30" stroke="#555555" stroke-width="1" />
<text x="176.50" y="538.62" font-size="8" text-anchor="end" font-weight="400" fill="#222" >10</text>
<line x1="177.50" y1="562.95" x2="181.50" y2="562.95" stroke="#555555" stroke-width="1" />
<text x="176.50" y="565.27" font-size="8" text-anchor="end" font-weight="400" fill="#222" >9</text>
<line x1="177.50" y1="589.60" x2="181.50" y2="589.60" stroke="#555555" stroke-width="1" />
<text x="176.50" y="591.92" font-size="8" text-anchor="end" font-weight="400" fill="#222" >8</text>
<line x1="189.00" y1="460.00" x2="245.00" y2="460.00" stroke="#9a9a9a" stroke-width="0.9" />
<circle cx="214.40" cy="457.20" r="0.95" fill="#2a2a2a"/>
<circle cx="217.00" cy="457.20" r="0.95" fill="#2a2a2a"/>
<circle cx="219.60" cy="457.20" r="0.95" fill="#2a2a2a"/>
<line x1="189.00" y1="466.40" x2="222.60" y2="466.40" stroke="#9a9a9a" stroke-width="0.9" />
<circle cx="205.60" cy="463.60" r="0.95" fill="#2a2a2a"/>
<line x1="189.00" y1="473.00" x2="211.40" y2="473.00" stroke="#9a9a9a" stroke-width="0.9" />
<circle cx="198.90" cy="470.20" r="0.95" fill="#2a2a2a"/>
<circle cx="201.50" cy="470.20" r="0.95" fill="#2a2a2a"/>
<line x1="189.00" y1="479.40" x2="200.20" y2="479.40" stroke="#9a9a9a" stroke-width="0.9" />
<circle cx="194.60" cy="476.60" r="0.95" fill="#2a2a2a"/>
<line x1="233.80" y1="479.40" x2="245.00" y2="479.40" stroke="#9a9a9a" stroke-width="0.9" />
<circle cx="239.40" cy="476.60" r="0.95" fill="#2a2a2a"/>
<line x1="189.00" y1="564.28" x2="189.00" y2="537.63" stroke="#3c3cf0" stroke-width="0.9" />
<line x1="187.40" y1="564.28" x2="190.60" y2="564.28" stroke="#3c3cf0" stroke-width="0.9" />
<line x1="187.40" y1="537.63" x2="190.60" y2="537.63" stroke="#3c3cf0" stroke-width="0.9" />
<circle cx="189.00" cy="530.97" r="2.25" stroke="#3c3cf0" stroke-width="0.9" fill="#fff"/>
<circle cx="189.00" cy="538.97" r="2.25" stroke="#3c3cf0" stroke-width="0.9" fill="#fff"/>
<circle cx="187.20" cy="562.95" r="2.25" stroke="#3c3cf0" stroke-width="0.9" fill="#fff"/>
<circle cx="190.80" cy="562.95" r="2.25" stroke="#3c3cf0" stroke-width="0.9" fill="#fff"/>
<circle cx="189.00" cy="564.28" r="2.25" stroke="#3c3cf0" stroke-width="0.9" fill="#fff"/>
<line x1="185.40" y1="550.96" x2="192.60" y2="550.96" stroke="#3c3cf0" stroke-width="1.9" />
<line x1="200.20" y1="534.97" x2="200.20" y2="518.98" stroke="#ee3b3b" stroke-width="0.9" />
<line x1="198.60" y1="534.97" x2="201.80" y2="534.97" stroke="#ee3b3b" stroke-width="0.9" />
<line x1="198.60" y1="518.98" x2="201.80" y2="518.98" stroke="#ee3b3b" stroke-width="0.9" />
<circle cx="200.20" cy="512.32" r="2.25" stroke="#ee3b3b" stroke-width="0.9" fill="#fff"/>
<circle cx="198.40" cy="528.30" r="2.25" stroke="#ee3b3b" stroke-width="0.9" fill="#fff"/>
<circle cx="202.00" cy="530.97" r="2.25" stroke="#ee3b3b" stroke-width="0.9" fill="#fff"/>
<circle cx="198.40" cy="533.63" r="2.25" stroke="#ee3b3b" stroke-width="0.9" fill="#fff"/>
<circle cx="202.00" cy="533.63" r="2.25" stroke="#ee3b3b" stroke-width="0.9" fill="#fff"/>
<line x1="196.60" y1="526.97" x2="203.80" y2="526.97" stroke="#ee3b3b" stroke-width="1.9" />
<line x1="211.40" y1="526.97" x2="211.40" y2="518.98" stroke="#3cc43c" stroke-width="0.9" />
<line x1="209.80" y1="526.97" x2="213.00" y2="526.97" stroke="#3cc43c" stroke-width="0.9" />
<line x1="209.80" y1="518.98" x2="213.00" y2="518.98" stroke="#3cc43c" stroke-width="0.9" />
<circle cx="209.60" cy="517.64" r="2.25" stroke="#3cc43c" stroke-width="0.9" fill="#fff"/>
<circle cx="213.20" cy="520.31" r="2.25" stroke="#3cc43c" stroke-width="0.9" fill="#fff"/>
<circle cx="209.60" cy="525.64" r="2.25" stroke="#3cc43c" stroke-width="0.9" fill="#fff"/>
<circle cx="213.20" cy="528.30" r="2.25" stroke="#3cc43c" stroke-width="0.9" fill="#fff"/>
<line x1="207.80" y1="522.98" x2="215.00" y2="522.98" stroke="#3cc43c" stroke-width="1.9" />
<line x1="222.60" y1="534.97" x2="222.60" y2="521.64" stroke="#b042e8" stroke-width="0.9" />
<line x1="221.00" y1="534.97" x2="224.20" y2="534.97" stroke="#b042e8" stroke-width="0.9" />
<line x1="221.00" y1="521.64" x2="224.20" y2="521.64" stroke="#b042e8" stroke-width="0.9" />
<circle cx="222.60" cy="517.64" r="2.25" stroke="#b042e8" stroke-width="0.9" fill="#fff"/>
<circle cx="222.60" cy="522.98" r="2.25" stroke="#b042e8" stroke-width="0.9" fill="#fff"/>
<circle cx="224.40" cy="528.30" r="2.25" stroke="#b042e8" stroke-width="0.9" fill="#fff"/>
<circle cx="220.80" cy="533.63" r="2.25" stroke="#b042e8" stroke-width="0.9" fill="#fff"/>
<circle cx="222.60" cy="536.30" r="2.25" stroke="#b042e8" stroke-width="0.9" fill="#fff"/>
<line x1="219.00" y1="528.30" x2="226.20" y2="528.30" stroke="#b042e8" stroke-width="1.9" />
<line x1="233.80" y1="554.96" x2="233.80" y2="517.64" stroke="#f5a23a" stroke-width="0.9" />
<line x1="232.20" y1="554.96" x2="235.40" y2="554.96" stroke="#f5a23a" stroke-width="0.9" />
<line x1="232.20" y1="517.64" x2="235.40" y2="517.64" stroke="#f5a23a" stroke-width="0.9" />
<circle cx="233.80" cy="517.64" r="2.25" stroke="#f5a23a" stroke-width="0.9" fill="#fff"/>
<circle cx="232.00" cy="530.97" r="2.25" stroke="#f5a23a" stroke-width="0.9" fill="#fff"/>
<circle cx="235.60" cy="530.97" r="2.25" stroke="#f5a23a" stroke-width="0.9" fill="#fff"/>
<circle cx="233.80" cy="536.30" r="2.25" stroke="#f5a23a" stroke-width="0.9" fill="#fff"/>
<circle cx="233.80" cy="565.62" r="2.25" stroke="#f5a23a" stroke-width="0.9" fill="#fff"/>
<line x1="230.20" y1="536.30" x2="237.40" y2="536.30" stroke="#f5a23a" stroke-width="1.9" />
<line x1="245.00" y1="521.64" x2="245.00" y2="504.32" stroke="#3a3a3a" stroke-width="0.9" />
<line x1="243.40" y1="521.64" x2="246.60" y2="521.64" stroke="#3a3a3a" stroke-width="0.9" />
<line x1="243.40" y1="504.32" x2="246.60" y2="504.32" stroke="#3a3a3a" stroke-width="0.9" />
<circle cx="245.00" cy="504.32" r="2.25" stroke="#3a3a3a" stroke-width="0.9" fill="#fff"/>
<circle cx="243.20" cy="506.99" r="2.25" stroke="#3a3a3a" stroke-width="0.9" fill="#fff"/>
<circle cx="246.80" cy="510.98" r="2.25" stroke="#3a3a3a" stroke-width="0.9" fill="#fff"/>
<circle cx="245.00" cy="512.32" r="2.25" stroke="#3a3a3a" stroke-width="0.9" fill="#fff"/>
<circle cx="245.00" cy="528.30" r="2.25" stroke="#3a3a3a" stroke-width="0.9" fill="#fff"/>
<line x1="241.40" y1="510.98" x2="248.60" y2="510.98" stroke="#3a3a3a" stroke-width="1.9" />
<text x="0" y="0" font-size="8.7" text-anchor="middle" fill="#222" transform="translate(161.20,536.00) rotate(-90)"><tspan>Log</tspan><tspan font-size="5.92" dy="1.48">10</tspan><tspan dy="-1.48"></tspan><tspan> CP/g</tspan></text>
<text x="369.70" y="425.10" font-size="10.2" text-anchor="middle" font-weight="400" fill="#222" >qPCR lung</text>
<text x="369.70" y="436.20" font-size="10.2" text-anchor="middle" font-weight="400" fill="#222" >(Omicron)</text>
<rect x="370.40" y="483.40" width="21.60" height="104.90" fill="#e2e2e2"/>
<line x1="335.00" y1="484.40" x2="335.00" y2="588.30" stroke="#555555" stroke-width="1" />
<line x1="335.00" y1="588.30" x2="404.00" y2="588.30" stroke="#555555" stroke-width="1" />
<line x1="331.00" y1="484.40" x2="335.00" y2="484.40" stroke="#555555" stroke-width="1" />
<text x="330.00" y="486.72" font-size="8" text-anchor="end" font-weight="400" fill="#222" >11</text>
<line x1="331.00" y1="497.40" x2="335.00" y2="497.40" stroke="#555555" stroke-width="1" />
<text x="330.00" y="499.72" font-size="8" text-anchor="end" font-weight="400" fill="#222" >10</text>
<line x1="331.00" y1="510.40" x2="335.00" y2="510.40" stroke="#555555" stroke-width="1" />
<text x="330.00" y="512.72" font-size="8" text-anchor="end" font-weight="400" fill="#222" >9</text>
<line x1="331.00" y1="523.40" x2="335.00" y2="523.40" stroke="#555555" stroke-width="1" />
<text x="330.00" y="525.72" font-size="8" text-anchor="end" font-weight="400" fill="#222" >8</text>
<line x1="331.00" y1="536.40" x2="335.00" y2="536.40" stroke="#555555" stroke-width="1" />
<text x="330.00" y="538.72" font-size="8" text-anchor="end" font-weight="400" fill="#222" >7</text>
<line x1="331.00" y1="549.40" x2="335.00" y2="549.40" stroke="#555555" stroke-width="1" />
<text x="330.00" y="551.72" font-size="8" text-anchor="end" font-weight="400" fill="#222" >6</text>
<line x1="331.00" y1="562.40" x2="335.00" y2="562.40" stroke="#555555" stroke-width="1" />
<text x="330.00" y="564.72" font-size="8" text-anchor="end" font-weight="400" fill="#222" >5</text>
<line x1="331.00" y1="575.40" x2="335.00" y2="575.40" stroke="#555555" stroke-width="1" />
<text x="330.00" y="577.72" font-size="8" text-anchor="end" font-weight="400" fill="#222" >4</text>
<line x1="331.00" y1="588.40" x2="335.00" y2="588.40" stroke="#555555" stroke-width="1" />
<text x="330.00" y="590.72" font-size="8" text-anchor="end" font-weight="400" fill="#222" >3</text>
<line x1="342.40" y1="454.50" x2="397.40" y2="454.50" stroke="#9a9a9a" stroke-width="0.9" />
<circle cx="367.00" cy="451.70" r="0.95" fill="#2a2a2a"/>
<circle cx="369.60" cy="451.70" r="0.95" fill="#2a2a2a"/>
<circle cx="372.20" cy="451.70" r="0.95" fill="#2a2a2a"/>
<line x1="364.40" y1="468.30" x2="397.40" y2="468.30" stroke="#9a9a9a" stroke-width="0.9" />
<circle cx="378.00" cy="465.50" r="0.95" fill="#2a2a2a"/>
<circle cx="380.60" cy="465.50" r="0.95" fill="#2a2a2a"/>
<circle cx="383.20" cy="465.50" r="0.95" fill="#2a2a2a"/>
<line x1="375.40" y1="474.90" x2="397.40" y2="474.90" stroke="#9a9a9a" stroke-width="0.9" />
<circle cx="385.10" cy="472.10" r="0.95" fill="#2a2a2a"/>
<circle cx="387.70" cy="472.10" r="0.95" fill="#2a2a2a"/>
<line x1="386.40" y1="482.00" x2="397.40" y2="482.00" stroke="#9a9a9a" stroke-width="0.9" />
<circle cx="387.90" cy="479.20" r="0.95" fill="#2a2a2a"/>
<circle cx="390.50" cy="479.20" r="0.95" fill="#2a2a2a"/>
<circle cx="393.10" cy="479.20" r="0.95" fill="#2a2a2a"/>
<circle cx="395.70" cy="479.20" r="0.95" fill="#2a2a2a"/>
<line x1="342.40" y1="574.10" x2="342.40" y2="540.30" stroke="#3c3cf0" stroke-width="0.9" />
<line x1="340.80" y1="574.10" x2="344.00" y2="574.10" stroke="#3c3cf0" stroke-width="0.9" />
<line x1="340.80" y1="540.30" x2="344.00" y2="540.30" stroke="#3c3cf0" stroke-width="0.9" />
<circle cx="342.40" cy="542.90" r="2.25" stroke="#3c3cf0" stroke-width="0.9" fill="#fff"/>
<circle cx="340.60" cy="549.40" r="2.25" stroke="#3c3cf0" stroke-width="0.9" fill="#fff"/>
<circle cx="344.20" cy="553.30" r="2.25" stroke="#3c3cf0" stroke-width="0.9" fill="#fff"/>
<circle cx="342.40" cy="557.20" r="2.25" stroke="#3c3cf0" stroke-width="0.9" fill="#fff"/>
<circle cx="342.40" cy="581.90" r="2.25" stroke="#3c3cf0" stroke-width="0.9" fill="#fff"/>
<line x1="338.80" y1="556.94" x2="346.00" y2="556.94" stroke="#3c3cf0" stroke-width="1.9" />
<line x1="353.40" y1="544.20" x2="353.40" y2="506.50" stroke="#ee3b3b" stroke-width="0.9" />
<line x1="351.80" y1="544.20" x2="355.00" y2="544.20" stroke="#ee3b3b" stroke-width="0.9" />
<line x1="351.80" y1="506.50" x2="355.00" y2="506.50" stroke="#ee3b3b" stroke-width="0.9" />
<circle cx="353.40" cy="506.50" r="2.25" stroke="#ee3b3b" stroke-width="0.9" fill="#fff"/>
<circle cx="355.20" cy="513.00" r="2.25" stroke="#ee3b3b" stroke-width="0.9" fill="#fff"/>
<circle cx="351.60" cy="516.90" r="2.25" stroke="#ee3b3b" stroke-width="0.9" fill="#fff"/>
<circle cx="353.40" cy="536.40" r="2.25" stroke="#ee3b3b" stroke-width="0.9" fill="#fff"/>
<circle cx="353.40" cy="553.30" r="2.25" stroke="#ee3b3b" stroke-width="0.9" fill="#fff"/>
<line x1="349.80" y1="525.35" x2="357.00" y2="525.35" stroke="#ee3b3b" stroke-width="1.9" />
<line x1="364.40" y1="561.10" x2="364.40" y2="553.30" stroke="#3cc43c" stroke-width="0.9" />
<line x1="362.80" y1="561.10" x2="366.00" y2="561.10" stroke="#3cc43c" stroke-width="0.9" />
<line x1="362.80" y1="553.30" x2="366.00" y2="553.30" stroke="#3cc43c" stroke-width="0.9" />
<circle cx="364.40" cy="547.58" r="2.25" stroke="#3cc43c" stroke-width="0.9" fill="#fff"/>
<circle cx="364.40" cy="554.21" r="2.25" stroke="#3cc43c" stroke-width="0.9" fill="#fff"/>
<circle cx="364.40" cy="557.20" r="2.25" stroke="#3cc43c" stroke-width="0.9" fill="#fff"/>
<circle cx="364.40" cy="559.67" r="2.25" stroke="#3cc43c" stroke-width="0.9" fill="#fff"/>
<circle cx="364.40" cy="566.43" r="2.25" stroke="#3cc43c" stroke-width="0.9" fill="#fff"/>
<line x1="360.80" y1="557.07" x2="368.00" y2="557.07" stroke="#3cc43c" stroke-width="1.9" />
<line x1="375.40" y1="558.50" x2="375.40" y2="546.80" stroke="#b042e8" stroke-width="0.9" />
<line x1="373.80" y1="558.50" x2="377.00" y2="558.50" stroke="#b042e8" stroke-width="0.9" />
<line x1="373.80" y1="546.80" x2="377.00" y2="546.80" stroke="#b042e8" stroke-width="0.9" />
<circle cx="375.40" cy="545.50" r="2.25" stroke="#b042e8" stroke-width="0.9" fill="#fff"/>
<circle cx="373.60" cy="549.40" r="2.25" stroke="#b042e8" stroke-width="0.9" fill="#fff"/>
<circle cx="377.20" cy="550.70" r="2.25" stroke="#b042e8" stroke-width="0.9" fill="#fff"/>
<circle cx="375.40" cy="554.60" r="2.25" stroke="#b042e8" stroke-width="0.9" fill="#fff"/>
<circle cx="375.40" cy="563.70" r="2.25" stroke="#b042e8" stroke-width="0.9" fill="#fff"/>
<line x1="371.80" y1="552.00" x2="379.00" y2="552.00" stroke="#b042e8" stroke-width="1.9" />
<line x1="386.40" y1="580.60" x2="386.40" y2="545.50" stroke="#f5a23a" stroke-width="0.9" />
<line x1="384.80" y1="580.60" x2="388.00" y2="580.60" stroke="#f5a23a" stroke-width="0.9" />
<line x1="384.80" y1="545.50" x2="388.00" y2="545.50" stroke="#f5a23a" stroke-width="0.9" />
<circle cx="386.40" cy="546.80" r="2.25" stroke="#f5a23a" stroke-width="0.9" fill="#fff"/>
<circle cx="384.60" cy="550.70" r="2.25" stroke="#f5a23a" stroke-width="0.9" fill="#fff"/>
<circle cx="388.20" cy="550.70" r="2.25" stroke="#f5a23a" stroke-width="0.9" fill="#fff"/>
<circle cx="386.40" cy="581.90" r="2.25" stroke="#f5a23a" stroke-width="0.9" fill="#fff"/>
<circle cx="386.40" cy="581.90" r="2.25" stroke="#f5a23a" stroke-width="0.9" fill="#fff"/>
<line x1="382.80" y1="562.79" x2="390.00" y2="562.79" stroke="#f5a23a" stroke-width="1.9" />
<line x1="397.40" y1="522.10" x2="397.40" y2="492.85" stroke="#3a3a3a" stroke-width="0.9" />
<line x1="395.80" y1="522.10" x2="399.00" y2="522.10" stroke="#3a3a3a" stroke-width="0.9" />
<line x1="395.80" y1="492.85" x2="399.00" y2="492.85" stroke="#3a3a3a" stroke-width="0.9" />
<circle cx="395.70" cy="497.40" r="2.25" stroke="#3a3a3a" stroke-width="0.9" fill="#fff"/>
<circle cx="399.10" cy="497.40" r="2.25" stroke="#3a3a3a" stroke-width="0.9" fill="#fff"/>
<circle cx="397.40" cy="500.39" r="2.25" stroke="#3a3a3a" stroke-width="0.9" fill="#fff"/>
<circle cx="397.40" cy="511.31" r="2.25" stroke="#3a3a3a" stroke-width="0.9" fill="#fff"/>
<circle cx="397.40" cy="530.94" r="2.25" stroke="#3a3a3a" stroke-width="0.9" fill="#fff"/>
<line x1="393.80" y1="507.28" x2="401.00" y2="507.28" stroke="#3a3a3a" stroke-width="1.9" />
<text x="0" y="0" font-size="8.7" text-anchor="middle" fill="#222" transform="translate(315.00,536.50) rotate(-90)"><tspan>Log</tspan><tspan font-size="5.92" dy="1.48">10</tspan><tspan dy="-1.48"></tspan><tspan> CP/g</tspan></text>
<text x="494.50" y="425.10" font-size="10.2" text-anchor="middle" font-weight="400" fill="#222" >qPCR nasal turbinate</text>
<text x="494.50" y="436.20" font-size="10.2" text-anchor="middle" font-weight="400" fill="#222" >(Omicron)</text>
<rect x="495.20" y="481.50" width="21.80" height="107.50" fill="#e2e2e2"/>
<line x1="459.30" y1="483.30" x2="459.30" y2="589.00" stroke="#555555" stroke-width="1" />
<line x1="459.30" y1="589.00" x2="530.00" y2="589.00" stroke="#555555" stroke-width="1" />
<line x1="455.30" y1="483.30" x2="459.30" y2="483.30" stroke="#555555" stroke-width="1" />
<text x="454.30" y="485.62" font-size="8" text-anchor="end" font-weight="400" fill="#222" >12</text>
<line x1="455.30" y1="509.73" x2="459.30" y2="509.73" stroke="#555555" stroke-width="1" />
<text x="454.30" y="512.05" font-size="8" text-anchor="end" font-weight="400" fill="#222" >11</text>
<line x1="455.30" y1="536.15" x2="459.30" y2="536.15" stroke="#555555" stroke-width="1" />
<text x="454.30" y="538.47" font-size="8" text-anchor="end" font-weight="400" fill="#222" >10</text>
<line x1="455.30" y1="562.58" x2="459.30" y2="562.58" stroke="#555555" stroke-width="1" />
<text x="454.30" y="564.90" font-size="8" text-anchor="end" font-weight="400" fill="#222" >9</text>
<line x1="455.30" y1="589.00" x2="459.30" y2="589.00" stroke="#555555" stroke-width="1" />
<text x="454.30" y="591.32" font-size="8" text-anchor="end" font-weight="400" fill="#222" >8</text>
<line x1="466.60" y1="452.70" x2="522.10" y2="452.70" stroke="#9a9a9a" stroke-width="0.9" />
<circle cx="491.10" cy="449.90" r="0.95" fill="#2a2a2a"/>
<circle cx="493.70" cy="449.90" r="0.95" fill="#2a2a2a"/>
<circle cx="496.30" cy="449.90" r="0.95" fill="#2a2a2a"/>
<line x1="488.80" y1="466.80" x2="522.10" y2="466.80" stroke="#9a9a9a" stroke-width="0.9" />
<circle cx="501.70" cy="464.00" r="0.95" fill="#2a2a2a"/>
<circle cx="504.30" cy="464.00" r="0.95" fill="#2a2a2a"/>
<circle cx="506.90" cy="464.00" r="0.95" fill="#2a2a2a"/>
<circle cx="509.50" cy="464.00" r="0.95" fill="#2a2a2a"/>
<line x1="499.90" y1="473.60" x2="522.10" y2="473.60" stroke="#9a9a9a" stroke-width="0.9" />
<circle cx="509.70" cy="470.80" r="0.95" fill="#2a2a2a"/>
<circle cx="512.30" cy="470.80" r="0.95" fill="#2a2a2a"/>
<line x1="511.00" y1="480.30" x2="522.10" y2="480.30" stroke="#9a9a9a" stroke-width="0.9" />
<circle cx="513.90" cy="477.50" r="0.95" fill="#2a2a2a"/>
<circle cx="516.50" cy="477.50" r="0.95" fill="#2a2a2a"/>
<circle cx="519.10" cy="477.50" r="0.95" fill="#2a2a2a"/>
<line x1="477.70" y1="488.50" x2="488.80" y2="488.50" stroke="#9a9a9a" stroke-width="0.9" />
<circle cx="483.20" cy="485.70" r="0.95" fill="#2a2a2a"/>
<line x1="466.60" y1="565.75" x2="466.60" y2="548.31" stroke="#3c3cf0" stroke-width="0.9" />
<line x1="465.00" y1="565.75" x2="468.20" y2="565.75" stroke="#3c3cf0" stroke-width="0.9" />
<line x1="465.00" y1="548.31" x2="468.20" y2="548.31" stroke="#3c3cf0" stroke-width="0.9" />
<circle cx="466.60" cy="543.81" r="2.25" stroke="#3c3cf0" stroke-width="0.9" fill="#fff"/>
<circle cx="466.60" cy="549.10" r="2.25" stroke="#3c3cf0" stroke-width="0.9" fill="#fff"/>
<circle cx="466.60" cy="554.91" r="2.25" stroke="#3c3cf0" stroke-width="0.9" fill="#fff"/>
<circle cx="466.60" cy="559.67" r="2.25" stroke="#3c3cf0" stroke-width="0.9" fill="#fff"/>
<circle cx="466.60" cy="570.50" r="2.25" stroke="#3c3cf0" stroke-width="0.9" fill="#fff"/>
<line x1="463.00" y1="555.18" x2="470.20" y2="555.18" stroke="#3c3cf0" stroke-width="1.9" />
<line x1="477.70" y1="549.36" x2="477.70" y2="533.51" stroke="#ee3b3b" stroke-width="0.9" />
<line x1="476.10" y1="549.36" x2="479.30" y2="549.36" stroke="#ee3b3b" stroke-width="0.9" />
<line x1="476.10" y1="533.51" x2="479.30" y2="533.51" stroke="#ee3b3b" stroke-width="0.9" />
<circle cx="477.70" cy="530.60" r="2.25" stroke="#ee3b3b" stroke-width="0.9" fill="#fff"/>
<circle cx="477.70" cy="535.89" r="2.25" stroke="#ee3b3b" stroke-width="0.9" fill="#fff"/>
<circle cx="476.60" cy="544.08" r="2.25" stroke="#ee3b3b" stroke-width="0.9" fill="#fff"/>
<circle cx="478.80" cy="546.98" r="2.25" stroke="#ee3b3b" stroke-width="0.9" fill="#fff"/>
<circle cx="476.60" cy="549.36" r="2.25" stroke="#ee3b3b" stroke-width="0.9" fill="#fff"/>
<line x1="474.10" y1="541.17" x2="481.30" y2="541.17" stroke="#ee3b3b" stroke-width="1.9" />
<line x1="488.80" y1="572.35" x2="488.80" y2="557.29" stroke="#3cc43c" stroke-width="0.9" />
<line x1="487.20" y1="572.35" x2="490.40" y2="572.35" stroke="#3cc43c" stroke-width="0.9" />
<line x1="487.20" y1="557.29" x2="490.40" y2="557.29" stroke="#3cc43c" stroke-width="0.9" />
<circle cx="488.80" cy="557.03" r="2.25" stroke="#3cc43c" stroke-width="0.9" fill="#fff"/>
<circle cx="487.60" cy="562.84" r="2.25" stroke="#3cc43c" stroke-width="0.9" fill="#fff"/>
<circle cx="490.00" cy="563.63" r="2.25" stroke="#3cc43c" stroke-width="0.9" fill="#fff"/>
<circle cx="488.80" cy="567.86" r="2.25" stroke="#3cc43c" stroke-width="0.9" fill="#fff"/>
<circle cx="488.80" cy="578.43" r="2.25" stroke="#3cc43c" stroke-width="0.9" fill="#fff"/>
<line x1="485.20" y1="564.42" x2="492.40" y2="564.42" stroke="#3cc43c" stroke-width="1.9" />
<line x1="499.90" y1="568.92" x2="499.90" y2="538.26" stroke="#b042e8" stroke-width="0.9" />
<line x1="498.30" y1="568.92" x2="501.50" y2="568.92" stroke="#b042e8" stroke-width="0.9" />
<line x1="498.30" y1="538.26" x2="501.50" y2="538.26" stroke="#b042e8" stroke-width="0.9" />
<circle cx="498.50" cy="540.38" r="2.25" stroke="#b042e8" stroke-width="0.9" fill="#fff"/>
<circle cx="501.30" cy="540.38" r="2.25" stroke="#b042e8" stroke-width="0.9" fill="#fff"/>
<circle cx="499.90" cy="546.98" r="2.25" stroke="#b042e8" stroke-width="0.9" fill="#fff"/>
<circle cx="499.90" cy="559.93" r="2.25" stroke="#b042e8" stroke-width="0.9" fill="#fff"/>
<circle cx="499.90" cy="578.43" r="2.25" stroke="#b042e8" stroke-width="0.9" fill="#fff"/>
<line x1="496.30" y1="553.85" x2="503.50" y2="553.85" stroke="#b042e8" stroke-width="1.9" />
<line x1="511.00" y1="573.14" x2="511.00" y2="547.25" stroke="#f5a23a" stroke-width="0.9" />
<line x1="509.40" y1="573.14" x2="512.60" y2="573.14" stroke="#f5a23a" stroke-width="0.9" />
<line x1="509.40" y1="547.25" x2="512.60" y2="547.25" stroke="#f5a23a" stroke-width="0.9" />
<circle cx="511.00" cy="541.17" r="2.25" stroke="#f5a23a" stroke-width="0.9" fill="#fff"/>
<circle cx="511.00" cy="552.00" r="2.25" stroke="#f5a23a" stroke-width="0.9" fill="#fff"/>
<circle cx="511.00" cy="565.22" r="2.25" stroke="#f5a23a" stroke-width="0.9" fill="#fff"/>
<circle cx="512.20" cy="570.24" r="2.25" stroke="#f5a23a" stroke-width="0.9" fill="#fff"/>
<circle cx="509.80" cy="573.14" r="2.25" stroke="#f5a23a" stroke-width="0.9" fill="#fff"/>
<line x1="507.40" y1="560.46" x2="514.60" y2="560.46" stroke="#f5a23a" stroke-width="1.9" />
<line x1="522.10" y1="530.07" x2="522.10" y2="509.73" stroke="#3a3a3a" stroke-width="0.9" />
<line x1="520.50" y1="530.07" x2="523.70" y2="530.07" stroke="#3a3a3a" stroke-width="0.9" />
<line x1="520.50" y1="509.73" x2="523.70" y2="509.73" stroke="#3a3a3a" stroke-width="0.9" />
<circle cx="520.30" cy="512.10" r="2.25" stroke="#3a3a3a" stroke-width="0.9" fill="#fff"/>
<circle cx="523.90" cy="512.10" r="2.25" stroke="#3a3a3a" stroke-width="0.9" fill="#fff"/>
<circle cx="520.50" cy="520.03" r="2.25" stroke="#3a3a3a" stroke-width="0.9" fill="#fff"/>
<circle cx="523.70" cy="522.14" r="2.25" stroke="#3a3a3a" stroke-width="0.9" fill="#fff"/>
<circle cx="522.10" cy="535.89" r="2.25" stroke="#3a3a3a" stroke-width="0.9" fill="#fff"/>
<line x1="518.50" y1="521.62" x2="525.70" y2="521.62" stroke="#3a3a3a" stroke-width="1.9" />
<text x="0" y="0" font-size="8.7" text-anchor="middle" fill="#222" transform="translate(439.30,536.50) rotate(-90)"><tspan>Log</tspan><tspan font-size="5.92" dy="1.48">10</tspan><tspan dy="-1.48"></tspan><tspan> CP/g</tspan></text>
<text x="93.00" y="661.20" font-size="10.2" text-anchor="middle" font-weight="400" fill="#222" >TCID<tspan font-size="6.8" dy="2.2">50</tspan><tspan dy="-2.2"> lung</tspan></text>
<text x="93.00" y="673.80" font-size="10.2" text-anchor="middle" font-weight="400" fill="#222" >(Delta)</text>
<rect x="93.60" y="715.00" width="22.00" height="109.20" fill="#e2e2e2"/>
<line x1="57.05" y1="717.40" x2="57.05" y2="824.20" stroke="#555555" stroke-width="1" />
<line x1="57.05" y1="824.20" x2="128.00" y2="824.20" stroke="#555555" stroke-width="1" />
<line x1="53.05" y1="717.40" x2="57.05" y2="717.40" stroke="#555555" stroke-width="1" />
<text x="52.05" y="719.72" font-size="8" text-anchor="end" font-weight="400" fill="#222" >6</text>
<line x1="53.05" y1="738.72" x2="57.05" y2="738.72" stroke="#555555" stroke-width="1" />
<text x="52.05" y="741.04" font-size="8" text-anchor="end" font-weight="400" fill="#222" >5</text>
<line x1="53.05" y1="760.04" x2="57.05" y2="760.04" stroke="#555555" stroke-width="1" />
<text x="52.05" y="762.36" font-size="8" text-anchor="end" font-weight="400" fill="#222" >4</text>
<line x1="53.05" y1="781.36" x2="57.05" y2="781.36" stroke="#555555" stroke-width="1" />
<text x="52.05" y="783.68" font-size="8" text-anchor="end" font-weight="400" fill="#222" >3</text>
<line x1="53.05" y1="802.68" x2="57.05" y2="802.68" stroke="#555555" stroke-width="1" />
<text x="52.05" y="805.00" font-size="8" text-anchor="end" font-weight="400" fill="#222" >2</text>
<line x1="53.05" y1="824.00" x2="57.05" y2="824.00" stroke="#555555" stroke-width="1" />
<text x="52.05" y="826.32" font-size="8" text-anchor="end" font-weight="400" fill="#222" >1</text>
<line x1="64.40" y1="686.00" x2="120.60" y2="686.00" stroke="#9a9a9a" stroke-width="0.9" />
<circle cx="88.50" cy="683.20" r="0.95" fill="#2a2a2a"/>
<circle cx="91.10" cy="683.20" r="0.95" fill="#2a2a2a"/>
<circle cx="93.70" cy="683.20" r="0.95" fill="#2a2a2a"/>
<circle cx="96.30" cy="683.20" r="0.95" fill="#2a2a2a"/>
<line x1="75.60" y1="693.00" x2="120.60" y2="693.00" stroke="#9a9a9a" stroke-width="0.9" />
<circle cx="94.10" cy="690.20" r="0.95" fill="#2a2a2a"/>
<circle cx="96.70" cy="690.20" r="0.95" fill="#2a2a2a"/>
<circle cx="99.30" cy="690.20" r="0.95" fill="#2a2a2a"/>
<circle cx="101.90" cy="690.20" r="0.95" fill="#2a2a2a"/>
<line x1="86.80" y1="700.00" x2="120.60" y2="700.00" stroke="#9a9a9a" stroke-width="0.9" />
<circle cx="99.70" cy="697.20" r="0.95" fill="#2a2a2a"/>
<circle cx="102.30" cy="697.20" r="0.95" fill="#2a2a2a"/>
<circle cx="104.90" cy="697.20" r="0.95" fill="#2a2a2a"/>
<circle cx="107.50" cy="697.20" r="0.95" fill="#2a2a2a"/>
<line x1="98.00" y1="707.00" x2="120.60" y2="707.00" stroke="#9a9a9a" stroke-width="0.9" />
<circle cx="105.50" cy="704.20" r="0.95" fill="#2a2a2a"/>
<circle cx="108.10" cy="704.20" r="0.95" fill="#2a2a2a"/>
<circle cx="110.70" cy="704.20" r="0.95" fill="#2a2a2a"/>
<circle cx="113.30" cy="704.20" r="0.95" fill="#2a2a2a"/>
<line x1="109.20" y1="713.60" x2="120.60" y2="713.60" stroke="#9a9a9a" stroke-width="0.9" />
<circle cx="111.10" cy="710.80" r="0.95" fill="#2a2a2a"/>
<circle cx="113.70" cy="710.80" r="0.95" fill="#2a2a2a"/>
<circle cx="116.30" cy="710.80" r="0.95" fill="#2a2a2a"/>
<circle cx="118.90" cy="710.80" r="0.95" fill="#2a2a2a"/>
<line x1="64.40" y1="714.40" x2="86.80" y2="714.40" stroke="#9a9a9a" stroke-width="0.9" />
<circle cx="73.00" cy="711.60" r="0.95" fill="#2a2a2a"/>
<circle cx="75.60" cy="711.60" r="0.95" fill="#2a2a2a"/>
<circle cx="78.20" cy="711.60" r="0.95" fill="#2a2a2a"/>
<line x1="86.80" y1="721.60" x2="109.20" y2="721.60" stroke="#9a9a9a" stroke-width="0.9" />
<circle cx="96.70" cy="718.80" r="0.95" fill="#2a2a2a"/>
<circle cx="99.30" cy="718.80" r="0.95" fill="#2a2a2a"/>
<line x1="86.80" y1="729.00" x2="98.00" y2="729.00" stroke="#9a9a9a" stroke-width="0.9" />
<circle cx="89.80" cy="726.20" r="0.95" fill="#2a2a2a"/>
<circle cx="92.40" cy="726.20" r="0.95" fill="#2a2a2a"/>
<circle cx="95.00" cy="726.20" r="0.95" fill="#2a2a2a"/>
<line x1="75.60" y1="737.40" x2="86.80" y2="737.40" stroke="#9a9a9a" stroke-width="0.9" />
<circle cx="78.60" cy="734.60" r="0.95" fill="#2a2a2a"/>
<circle cx="81.20" cy="734.60" r="0.95" fill="#2a2a2a"/>
<circle cx="83.80" cy="734.60" r="0.95" fill="#2a2a2a"/>
<line x1="64.40" y1="822.29" x2="64.40" y2="821.44" stroke="#3c3cf0" stroke-width="0.9" />
<line x1="62.80" y1="822.29" x2="66.00" y2="822.29" stroke="#3c3cf0" stroke-width="0.9" />
<line x1="62.80" y1="821.44" x2="66.00" y2="821.44" stroke="#3c3cf0" stroke-width="0.9" />
<circle cx="62.20" cy="821.87" r="2.25" stroke="#3c3cf0" stroke-width="0.9" fill="#fff"/>
<circle cx="66.60" cy="821.87" r="2.25" stroke="#3c3cf0" stroke-width="0.9" fill="#fff"/>
<circle cx="64.40" cy="820.59" r="2.25" stroke="#3c3cf0" stroke-width="0.9" fill="#fff"/>
<circle cx="63.20" cy="822.72" r="2.25" stroke="#3c3cf0" stroke-width="0.9" fill="#fff"/>
<circle cx="65.60" cy="822.72" r="2.25" stroke="#3c3cf0" stroke-width="0.9" fill="#fff"/>
<line x1="60.80" y1="821.87" x2="68.00" y2="821.87" stroke="#3c3cf0" stroke-width="1.9" />
<line x1="75.60" y1="822.29" x2="75.60" y2="820.59" stroke="#ee3b3b" stroke-width="0.9" />
<line x1="74.00" y1="822.29" x2="77.20" y2="822.29" stroke="#ee3b3b" stroke-width="0.9" />
<line x1="74.00" y1="820.59" x2="77.20" y2="820.59" stroke="#ee3b3b" stroke-width="0.9" />
<circle cx="74.10" cy="820.80" r="2.25" stroke="#ee3b3b" stroke-width="0.9" fill="#fff"/>
<circle cx="77.10" cy="820.80" r="2.25" stroke="#ee3b3b" stroke-width="0.9" fill="#fff"/>
<circle cx="74.60" cy="821.87" r="2.25" stroke="#ee3b3b" stroke-width="0.9" fill="#fff"/>
<circle cx="76.60" cy="821.87" r="2.25" stroke="#ee3b3b" stroke-width="0.9" fill="#fff"/>
<circle cx="75.60" cy="822.93" r="2.25" stroke="#ee3b3b" stroke-width="0.9" fill="#fff"/>
<line x1="72.00" y1="821.44" x2="79.20" y2="821.44" stroke="#ee3b3b" stroke-width="1.9" />
<line x1="86.80" y1="812.27" x2="86.80" y2="789.89" stroke="#3cc43c" stroke-width="0.9" />
<line x1="85.20" y1="812.27" x2="88.40" y2="812.27" stroke="#3cc43c" stroke-width="0.9" />
<line x1="85.20" y1="789.89" x2="88.40" y2="789.89" stroke="#3cc43c" stroke-width="0.9" />
<circle cx="86.80" cy="785.62" r="2.25" stroke="#3cc43c" stroke-width="0.9" fill="#fff"/>
<circle cx="88.60" cy="796.28" r="2.25" stroke="#3cc43c" stroke-width="0.9" fill="#fff"/>
<circle cx="85.00" cy="800.55" r="2.25" stroke="#3cc43c" stroke-width="0.9" fill="#fff"/>
<circle cx="86.80" cy="811.21" r="2.25" stroke="#3cc43c" stroke-width="0.9" fill="#fff"/>
<circle cx="86.80" cy="815.47" r="2.25" stroke="#3cc43c" stroke-width="0.9" fill="#fff"/>
<line x1="83.20" y1="801.61" x2="90.40" y2="801.61" stroke="#3cc43c" stroke-width="1.9" />
<line x1="98.00" y1="822.29" x2="98.00" y2="821.44" stroke="#b042e8" stroke-width="0.9" />
<line x1="96.40" y1="822.29" x2="99.60" y2="822.29" stroke="#b042e8" stroke-width="0.9" />
<line x1="96.40" y1="821.44" x2="99.60" y2="821.44" stroke="#b042e8" stroke-width="0.9" />
<circle cx="95.80" cy="821.87" r="2.25" stroke="#b042e8" stroke-width="0.9" fill="#fff"/>
<circle cx="100.20" cy="821.87" r="2.25" stroke="#b042e8" stroke-width="0.9" fill="#fff"/>
<circle cx="98.00" cy="820.59" r="2.25" stroke="#b042e8" stroke-width="0.9" fill="#fff"/>
<circle cx="96.80" cy="822.72" r="2.25" stroke="#b042e8" stroke-width="0.9" fill="#fff"/>
<circle cx="99.20" cy="822.72" r="2.25" stroke="#b042e8" stroke-width="0.9" fill="#fff"/>
<line x1="94.40" y1="821.87" x2="101.60" y2="821.87" stroke="#b042e8" stroke-width="1.9" />
<line x1="109.20" y1="822.93" x2="109.20" y2="814.41" stroke="#f5a23a" stroke-width="0.9" />
<line x1="107.60" y1="822.93" x2="110.80" y2="822.93" stroke="#f5a23a" stroke-width="0.9" />
<line x1="107.60" y1="814.41" x2="110.80" y2="814.41" stroke="#f5a23a" stroke-width="0.9" />
<circle cx="109.20" cy="811.21" r="2.25" stroke="#f5a23a" stroke-width="0.9" fill="#fff"/>
<circle cx="109.20" cy="818.67" r="2.25" stroke="#f5a23a" stroke-width="0.9" fill="#fff"/>
<circle cx="107.40" cy="821.87" r="2.25" stroke="#f5a23a" stroke-width="0.9" fill="#fff"/>
<circle cx="111.00" cy="821.87" r="2.25" stroke="#f5a23a" stroke-width="0.9" fill="#fff"/>
<circle cx="109.20" cy="821.87" r="2.25" stroke="#f5a23a" stroke-width="0.9" fill="#fff"/>
<line x1="105.60" y1="819.74" x2="112.80" y2="819.74" stroke="#f5a23a" stroke-width="1.9" />
<line x1="120.60" y1="738.72" x2="120.60" y2="724.86" stroke="#3a3a3a" stroke-width="0.9" />
<line x1="119.00" y1="738.72" x2="122.20" y2="738.72" stroke="#3a3a3a" stroke-width="0.9" />
<line x1="119.00" y1="724.86" x2="122.20" y2="724.86" stroke="#3a3a3a" stroke-width="0.9" />
<circle cx="120.60" cy="725.50" r="2.25" stroke="#3a3a3a" stroke-width="0.9" fill="#fff"/>
<circle cx="118.70" cy="728.06" r="2.25" stroke="#3a3a3a" stroke-width="0.9" fill="#fff"/>
<circle cx="122.50" cy="728.06" r="2.25" stroke="#3a3a3a" stroke-width="0.9" fill="#fff"/>
<circle cx="120.60" cy="730.19" r="2.25" stroke="#3a3a3a" stroke-width="0.9" fill="#fff"/>
<circle cx="120.60" cy="745.12" r="2.25" stroke="#3a3a3a" stroke-width="0.9" fill="#fff"/>
<line x1="117.00" y1="730.62" x2="124.20" y2="730.62" stroke="#3a3a3a" stroke-width="1.9" />
<text x="0" y="0" font-size="9.1" text-anchor="middle" fill="#222" transform="translate(40.60,771.00) rotate(-90)"><tspan>Log</tspan><tspan font-size="6.19" dy="1.55">10</tspan><tspan dy="-1.55"></tspan><tspan> TCID</tspan><tspan font-size="6.19" dy="1.55">50</tspan><tspan dy="-1.55"></tspan><tspan>/g</tspan></text>
<text x="217.00" y="661.80" font-size="10.2" text-anchor="middle" font-weight="400" fill="#222" >TCID<tspan font-size="6.8" dy="2.2">50</tspan><tspan dy="-2.2"> nasal turbinate</tspan></text>
<text x="217.00" y="674.40" font-size="10.2" text-anchor="middle" font-weight="400" fill="#222" >(Delta)</text>
<rect x="217.00" y="717.00" width="21.40" height="107.30" fill="#e2e2e2"/>
<line x1="181.60" y1="718.40" x2="181.60" y2="824.30" stroke="#555555" stroke-width="1" />
<line x1="181.60" y1="824.30" x2="252.40" y2="824.30" stroke="#555555" stroke-width="1" />
<line x1="177.60" y1="718.40" x2="181.60" y2="718.40" stroke="#555555" stroke-width="1" />
<text x="176.60" y="720.72" font-size="8" text-anchor="end" font-weight="400" fill="#222" >10</text>
<line x1="177.60" y1="739.52" x2="181.60" y2="739.52" stroke="#555555" stroke-width="1" />
<text x="176.60" y="741.84" font-size="8" text-anchor="end" font-weight="400" fill="#222" >8</text>
<line x1="177.60" y1="760.64" x2="181.60" y2="760.64" stroke="#555555" stroke-width="1" />
<text x="176.60" y="762.96" font-size="8" text-anchor="end" font-weight="400" fill="#222" >6</text>
<line x1="177.60" y1="781.76" x2="181.60" y2="781.76" stroke="#555555" stroke-width="1" />
<text x="176.60" y="784.08" font-size="8" text-anchor="end" font-weight="400" fill="#222" >4</text>
<line x1="177.60" y1="802.88" x2="181.60" y2="802.88" stroke="#555555" stroke-width="1" />
<text x="176.60" y="805.20" font-size="8" text-anchor="end" font-weight="400" fill="#222" >2</text>
<line x1="177.60" y1="824.00" x2="181.60" y2="824.00" stroke="#555555" stroke-width="1" />
<text x="176.60" y="826.32" font-size="8" text-anchor="end" font-weight="400" fill="#222" >0</text>
<line x1="189.00" y1="687.40" x2="244.60" y2="687.40" stroke="#9a9a9a" stroke-width="0.9" />
<circle cx="213.10" cy="684.60" r="0.95" fill="#2a2a2a"/>
<circle cx="215.70" cy="684.60" r="0.95" fill="#2a2a2a"/>
<circle cx="218.30" cy="684.60" r="0.95" fill="#2a2a2a"/>
<circle cx="220.90" cy="684.60" r="0.95" fill="#2a2a2a"/>
<line x1="200.20" y1="694.00" x2="244.60" y2="694.00" stroke="#9a9a9a" stroke-width="0.9" />
<circle cx="218.50" cy="691.20" r="0.95" fill="#2a2a2a"/>
<circle cx="221.10" cy="691.20" r="0.95" fill="#2a2a2a"/>
<circle cx="223.70" cy="691.20" r="0.95" fill="#2a2a2a"/>
<circle cx="226.30" cy="691.20" r="0.95" fill="#2a2a2a"/>
<line x1="222.60" y1="707.60" x2="244.60" y2="707.60" stroke="#9a9a9a" stroke-width="0.9" />
<circle cx="232.10" cy="704.80" r="0.95" fill="#2a2a2a"/>
<circle cx="234.70" cy="704.80" r="0.95" fill="#2a2a2a"/>
<line x1="233.60" y1="714.40" x2="244.60" y2="714.40" stroke="#9a9a9a" stroke-width="0.9" />
<circle cx="235.10" cy="711.60" r="0.95" fill="#2a2a2a"/>
<circle cx="237.70" cy="711.60" r="0.95" fill="#2a2a2a"/>
<circle cx="240.30" cy="711.60" r="0.95" fill="#2a2a2a"/>
<circle cx="242.90" cy="711.60" r="0.95" fill="#2a2a2a"/>
<line x1="189.00" y1="721.00" x2="222.60" y2="721.00" stroke="#9a9a9a" stroke-width="0.9" />
<circle cx="204.30" cy="718.20" r="0.95" fill="#2a2a2a"/>
<circle cx="206.90" cy="718.20" r="0.95" fill="#2a2a2a"/>
<line x1="189.00" y1="728.00" x2="211.40" y2="728.00" stroke="#9a9a9a" stroke-width="0.9" />
<circle cx="196.10" cy="725.20" r="0.95" fill="#2a2a2a"/>
<circle cx="198.70" cy="725.20" r="0.95" fill="#2a2a2a"/>
<circle cx="201.30" cy="725.20" r="0.95" fill="#2a2a2a"/>
<circle cx="203.90" cy="725.20" r="0.95" fill="#2a2a2a"/>
<line x1="211.40" y1="735.40" x2="233.60" y2="735.40" stroke="#9a9a9a" stroke-width="0.9" />
<circle cx="219.80" cy="732.60" r="0.95" fill="#2a2a2a"/>
<circle cx="222.40" cy="732.60" r="0.95" fill="#2a2a2a"/>
<circle cx="225.00" cy="732.60" r="0.95" fill="#2a2a2a"/>
<line x1="200.20" y1="743.00" x2="211.40" y2="743.00" stroke="#9a9a9a" stroke-width="0.9" />
<circle cx="205.60" cy="740.20" r="0.95" fill="#2a2a2a"/>
<line x1="222.60" y1="743.00" x2="233.60" y2="743.00" stroke="#9a9a9a" stroke-width="0.9" />
<circle cx="228.00" cy="740.20" r="0.95" fill="#2a2a2a"/>
<line x1="189.00" y1="800.77" x2="189.00" y2="792.32" stroke="#3c3cf0" stroke-width="0.9" />
<line x1="187.40" y1="800.77" x2="190.60" y2="800.77" stroke="#3c3cf0" stroke-width="0.9" />
<line x1="187.40" y1="792.32" x2="190.60" y2="792.32" stroke="#3c3cf0" stroke-width="0.9" />
<circle cx="189.00" cy="789.15" r="2.25" stroke="#3c3cf0" stroke-width="0.9" fill="#fff"/>
<circle cx="189.00" cy="794.43" r="2.25" stroke="#3c3cf0" stroke-width="0.9" fill="#fff"/>
<circle cx="189.00" cy="797.60" r="2.25" stroke="#3c3cf0" stroke-width="0.9" fill="#fff"/>
<circle cx="187.20" cy="800.77" r="2.25" stroke="#3c3cf0" stroke-width="0.9" fill="#fff"/>
<circle cx="190.80" cy="800.77" r="2.25" stroke="#3c3cf0" stroke-width="0.9" fill="#fff"/>
<line x1="185.40" y1="797.07" x2="192.60" y2="797.07" stroke="#3c3cf0" stroke-width="1.9" />
<line x1="200.20" y1="796.54" x2="200.20" y2="778.59" stroke="#ee3b3b" stroke-width="0.9" />
<line x1="198.60" y1="796.54" x2="201.80" y2="796.54" stroke="#ee3b3b" stroke-width="0.9" />
<line x1="198.60" y1="778.59" x2="201.80" y2="778.59" stroke="#ee3b3b" stroke-width="0.9" />
<circle cx="200.20" cy="778.59" r="2.25" stroke="#ee3b3b" stroke-width="0.9" fill="#fff"/>
<circle cx="200.20" cy="781.76" r="2.25" stroke="#ee3b3b" stroke-width="0.9" fill="#fff"/>
<circle cx="200.20" cy="790.21" r="2.25" stroke="#ee3b3b" stroke-width="0.9" fill="#fff"/>
<circle cx="200.20" cy="794.43" r="2.25" stroke="#ee3b3b" stroke-width="0.9" fill="#fff"/>
<circle cx="200.20" cy="798.66" r="2.25" stroke="#ee3b3b" stroke-width="0.9" fill="#fff"/>
<line x1="196.60" y1="786.51" x2="203.80" y2="786.51" stroke="#ee3b3b" stroke-width="1.9" />
<line x1="211.40" y1="776.48" x2="211.40" y2="766.98" stroke="#3cc43c" stroke-width="0.9" />
<line x1="209.80" y1="776.48" x2="213.00" y2="776.48" stroke="#3cc43c" stroke-width="0.9" />
<line x1="209.80" y1="766.98" x2="213.00" y2="766.98" stroke="#3cc43c" stroke-width="0.9" />
<circle cx="211.40" cy="765.92" r="2.25" stroke="#3cc43c" stroke-width="0.9" fill="#fff"/>
<circle cx="209.60" cy="770.14" r="2.25" stroke="#3cc43c" stroke-width="0.9" fill="#fff"/>
<circle cx="213.20" cy="771.20" r="2.25" stroke="#3cc43c" stroke-width="0.9" fill="#fff"/>
<circle cx="211.40" cy="775.42" r="2.25" stroke="#3cc43c" stroke-width="0.9" fill="#fff"/>
<circle cx="211.40" cy="779.65" r="2.25" stroke="#3cc43c" stroke-width="0.9" fill="#fff"/>
<line x1="207.80" y1="771.20" x2="215.00" y2="771.20" stroke="#3cc43c" stroke-width="1.9" />
<line x1="222.60" y1="784.93" x2="222.60" y2="773.31" stroke="#b042e8" stroke-width="0.9" />
<line x1="221.00" y1="784.93" x2="224.20" y2="784.93" stroke="#b042e8" stroke-width="0.9" />
<line x1="221.00" y1="773.31" x2="224.20" y2="773.31" stroke="#b042e8" stroke-width="0.9" />
<circle cx="220.80" cy="773.31" r="2.25" stroke="#b042e8" stroke-width="0.9" fill="#fff"/>
<circle cx="224.40" cy="775.42" r="2.25" stroke="#b042e8" stroke-width="0.9" fill="#fff"/>
<circle cx="222.60" cy="778.59" r="2.25" stroke="#b042e8" stroke-width="0.9" fill="#fff"/>
<circle cx="222.60" cy="784.93" r="2.25" stroke="#b042e8" stroke-width="0.9" fill="#fff"/>
<circle cx="222.60" cy="790.21" r="2.25" stroke="#b042e8" stroke-width="0.9" fill="#fff"/>
<line x1="219.00" y1="779.12" x2="226.20" y2="779.12" stroke="#b042e8" stroke-width="1.9" />
<line x1="233.60" y1="800.77" x2="233.60" y2="784.93" stroke="#f5a23a" stroke-width="0.9" />
<line x1="232.00" y1="800.77" x2="235.20" y2="800.77" stroke="#f5a23a" stroke-width="0.9" />
<line x1="232.00" y1="784.93" x2="235.20" y2="784.93" stroke="#f5a23a" stroke-width="0.9" />
<circle cx="233.60" cy="777.54" r="2.25" stroke="#f5a23a" stroke-width="0.9" fill="#fff"/>
<circle cx="233.60" cy="794.43" r="2.25" stroke="#f5a23a" stroke-width="0.9" fill="#fff"/>
<circle cx="233.60" cy="798.66" r="2.25" stroke="#f5a23a" stroke-width="0.9" fill="#fff"/>
<circle cx="231.80" cy="800.77" r="2.25" stroke="#f5a23a" stroke-width="0.9" fill="#fff"/>
<circle cx="235.40" cy="800.77" r="2.25" stroke="#f5a23a" stroke-width="0.9" fill="#fff"/>
<line x1="230.00" y1="794.43" x2="237.20" y2="794.43" stroke="#f5a23a" stroke-width="1.9" />
<line x1="244.60" y1="764.86" x2="244.60" y2="755.36" stroke="#3a3a3a" stroke-width="0.9" />
<line x1="243.00" y1="764.86" x2="246.20" y2="764.86" stroke="#3a3a3a" stroke-width="0.9" />
<line x1="243.00" y1="755.36" x2="246.20" y2="755.36" stroke="#3a3a3a" stroke-width="0.9" />
<circle cx="242.80" cy="754.30" r="2.25" stroke="#3a3a3a" stroke-width="0.9" fill="#fff"/>
<circle cx="246.40" cy="755.36" r="2.25" stroke="#3a3a3a" stroke-width="0.9" fill="#fff"/>
<circle cx="244.60" cy="759.58" r="2.25" stroke="#3a3a3a" stroke-width="0.9" fill="#fff"/>
<circle cx="244.60" cy="763.81" r="2.25" stroke="#3a3a3a" stroke-width="0.9" fill="#fff"/>
<circle cx="244.60" cy="769.09" r="2.25" stroke="#3a3a3a" stroke-width="0.9" fill="#fff"/>
<line x1="241.00" y1="760.64" x2="248.20" y2="760.64" stroke="#3a3a3a" stroke-width="1.9" />
<text x="0" y="0" font-size="9.1" text-anchor="middle" fill="#222" transform="translate(161.10,771.00) rotate(-90)"><tspan>Log</tspan><tspan font-size="6.19" dy="1.55">10</tspan><tspan dy="-1.55"></tspan><tspan> TCID</tspan><tspan font-size="6.19" dy="1.55">50</tspan><tspan dy="-1.55"></tspan><tspan>/g</tspan></text>
<text x="370.30" y="661.50" font-size="10.2" text-anchor="middle" font-weight="400" fill="#222" >TCID<tspan font-size="6.8" dy="2.2">50</tspan><tspan dy="-2.2"> lung</tspan></text>
<text x="370.30" y="674.10" font-size="10.2" text-anchor="middle" font-weight="400" fill="#222" >(Omicron)</text>
<rect x="371.40" y="717.40" width="21.20" height="107.30" fill="#e2e2e2"/>
<line x1="334.80" y1="718.60" x2="334.80" y2="824.70" stroke="#555555" stroke-width="1" />
<line x1="334.80" y1="824.70" x2="405.00" y2="824.70" stroke="#555555" stroke-width="1" />
<line x1="330.80" y1="718.60" x2="334.80" y2="718.60" stroke="#555555" stroke-width="1" />
<text x="329.80" y="720.92" font-size="8" text-anchor="end" font-weight="400" fill="#222" >6</text>
<line x1="330.80" y1="739.80" x2="334.80" y2="739.80" stroke="#555555" stroke-width="1" />
<text x="329.80" y="742.12" font-size="8" text-anchor="end" font-weight="400" fill="#222" >5</text>
<line x1="330.80" y1="761.00" x2="334.80" y2="761.00" stroke="#555555" stroke-width="1" />
<text x="329.80" y="763.32" font-size="8" text-anchor="end" font-weight="400" fill="#222" >4</text>
<line x1="330.80" y1="782.20" x2="334.80" y2="782.20" stroke="#555555" stroke-width="1" />
<text x="329.80" y="784.52" font-size="8" text-anchor="end" font-weight="400" fill="#222" >3</text>
<line x1="330.80" y1="803.40" x2="334.80" y2="803.40" stroke="#555555" stroke-width="1" />
<text x="329.80" y="805.72" font-size="8" text-anchor="end" font-weight="400" fill="#222" >2</text>
<line x1="330.80" y1="824.60" x2="334.80" y2="824.60" stroke="#555555" stroke-width="1" />
<text x="329.80" y="826.92" font-size="8" text-anchor="end" font-weight="400" fill="#222" >1</text>
<line x1="342.40" y1="688.40" x2="398.00" y2="688.40" stroke="#9a9a9a" stroke-width="0.9" />
<circle cx="367.40" cy="685.60" r="0.95" fill="#2a2a2a"/>
<circle cx="370.00" cy="685.60" r="0.95" fill="#2a2a2a"/>
<circle cx="372.60" cy="685.60" r="0.95" fill="#2a2a2a"/>
<line x1="353.60" y1="695.40" x2="398.00" y2="695.40" stroke="#9a9a9a" stroke-width="0.9" />
<circle cx="373.00" cy="692.60" r="0.95" fill="#2a2a2a"/>
<circle cx="375.60" cy="692.60" r="0.95" fill="#2a2a2a"/>
<circle cx="378.20" cy="692.60" r="0.95" fill="#2a2a2a"/>
<line x1="364.80" y1="702.00" x2="398.00" y2="702.00" stroke="#9a9a9a" stroke-width="0.9" />
<circle cx="378.40" cy="699.20" r="0.95" fill="#2a2a2a"/>
<circle cx="381.00" cy="699.20" r="0.95" fill="#2a2a2a"/>
<circle cx="383.60" cy="699.20" r="0.95" fill="#2a2a2a"/>
<line x1="376.00" y1="709.00" x2="398.00" y2="709.00" stroke="#9a9a9a" stroke-width="0.9" />
<circle cx="383.80" cy="706.20" r="0.95" fill="#2a2a2a"/>
<circle cx="386.40" cy="706.20" r="0.95" fill="#2a2a2a"/>
<circle cx="389.00" cy="706.20" r="0.95" fill="#2a2a2a"/>
<line x1="387.00" y1="715.60" x2="398.00" y2="715.60" stroke="#9a9a9a" stroke-width="0.9" />
<circle cx="389.80" cy="712.80" r="0.95" fill="#2a2a2a"/>
<circle cx="392.40" cy="712.80" r="0.95" fill="#2a2a2a"/>
<circle cx="395.00" cy="712.80" r="0.95" fill="#2a2a2a"/>
<line x1="342.40" y1="822.90" x2="342.40" y2="822.06" stroke="#3c3cf0" stroke-width="0.9" />
<line x1="340.80" y1="822.90" x2="344.00" y2="822.90" stroke="#3c3cf0" stroke-width="0.9" />
<line x1="340.80" y1="822.06" x2="344.00" y2="822.06" stroke="#3c3cf0" stroke-width="0.9" />
<circle cx="340.20" cy="822.48" r="2.25" stroke="#3c3cf0" stroke-width="0.9" fill="#fff"/>
<circle cx="344.60" cy="822.48" r="2.25" stroke="#3c3cf0" stroke-width="0.9" fill="#fff"/>
<circle cx="342.40" cy="821.21" r="2.25" stroke="#3c3cf0" stroke-width="0.9" fill="#fff"/>
<circle cx="341.20" cy="823.33" r="2.25" stroke="#3c3cf0" stroke-width="0.9" fill="#fff"/>
<circle cx="343.60" cy="823.33" r="2.25" stroke="#3c3cf0" stroke-width="0.9" fill="#fff"/>
<line x1="338.80" y1="822.48" x2="346.00" y2="822.48" stroke="#3c3cf0" stroke-width="1.9" />
<line x1="353.60" y1="824.60" x2="353.60" y2="802.34" stroke="#ee3b3b" stroke-width="0.9" />
<line x1="352.00" y1="824.60" x2="355.20" y2="824.60" stroke="#ee3b3b" stroke-width="0.9" />
<line x1="352.00" y1="802.34" x2="355.20" y2="802.34" stroke="#ee3b3b" stroke-width="0.9" />
<circle cx="353.60" cy="790.68" r="2.25" stroke="#ee3b3b" stroke-width="0.9" fill="#fff"/>
<circle cx="351.80" cy="822.48" r="2.25" stroke="#ee3b3b" stroke-width="0.9" fill="#fff"/>
<circle cx="355.40" cy="822.48" r="2.25" stroke="#ee3b3b" stroke-width="0.9" fill="#fff"/>
<circle cx="353.60" cy="824.60" r="2.25" stroke="#ee3b3b" stroke-width="0.9" fill="#fff"/>
<line x1="350.00" y1="816.54" x2="357.20" y2="816.54" stroke="#ee3b3b" stroke-width="1.9" />
<line x1="364.80" y1="822.90" x2="364.80" y2="822.06" stroke="#3cc43c" stroke-width="0.9" />
<line x1="363.20" y1="822.90" x2="366.40" y2="822.90" stroke="#3cc43c" stroke-width="0.9" />
<line x1="363.20" y1="822.06" x2="366.40" y2="822.06" stroke="#3cc43c" stroke-width="0.9" />
<circle cx="362.60" cy="822.48" r="2.25" stroke="#3cc43c" stroke-width="0.9" fill="#fff"/>
<circle cx="367.00" cy="822.48" r="2.25" stroke="#3cc43c" stroke-width="0.9" fill="#fff"/>
<circle cx="364.80" cy="821.21" r="2.25" stroke="#3cc43c" stroke-width="0.9" fill="#fff"/>
<circle cx="363.60" cy="823.33" r="2.25" stroke="#3cc43c" stroke-width="0.9" fill="#fff"/>
<circle cx="366.00" cy="823.33" r="2.25" stroke="#3cc43c" stroke-width="0.9" fill="#fff"/>
<line x1="361.20" y1="822.48" x2="368.40" y2="822.48" stroke="#3cc43c" stroke-width="1.9" />
<line x1="376.00" y1="822.90" x2="376.00" y2="822.06" stroke="#b042e8" stroke-width="0.9" />
<line x1="374.40" y1="822.90" x2="377.60" y2="822.90" stroke="#b042e8" stroke-width="0.9" />
<line x1="374.40" y1="822.06" x2="377.60" y2="822.06" stroke="#b042e8" stroke-width="0.9" />
<circle cx="373.80" cy="822.48" r="2.25" stroke="#b042e8" stroke-width="0.9" fill="#fff"/>
<circle cx="378.20" cy="822.48" r="2.25" stroke="#b042e8" stroke-width="0.9" fill="#fff"/>
<circle cx="376.00" cy="821.21" r="2.25" stroke="#b042e8" stroke-width="0.9" fill="#fff"/>
<circle cx="374.80" cy="823.33" r="2.25" stroke="#b042e8" stroke-width="0.9" fill="#fff"/>
<circle cx="377.20" cy="823.33" r="2.25" stroke="#b042e8" stroke-width="0.9" fill="#fff"/>
<line x1="372.40" y1="822.48" x2="379.60" y2="822.48" stroke="#b042e8" stroke-width="1.9" />
<line x1="387.00" y1="824.60" x2="387.00" y2="811.88" stroke="#f5a23a" stroke-width="0.9" />
<line x1="385.40" y1="824.60" x2="388.60" y2="824.60" stroke="#f5a23a" stroke-width="0.9" />
<line x1="385.40" y1="811.88" x2="388.60" y2="811.88" stroke="#f5a23a" stroke-width="0.9" />
<circle cx="387.00" cy="805.52" r="2.25" stroke="#f5a23a" stroke-width="0.9" fill="#fff"/>
<circle cx="387.00" cy="821.42" r="2.25" stroke="#f5a23a" stroke-width="0.9" fill="#fff"/>
<circle cx="385.20" cy="822.48" r="2.25" stroke="#f5a23a" stroke-width="0.9" fill="#fff"/>
<circle cx="388.80" cy="822.48" r="2.25" stroke="#f5a23a" stroke-width="0.9" fill="#fff"/>
<line x1="383.40" y1="819.30" x2="390.60" y2="819.30" stroke="#f5a23a" stroke-width="1.9" />
<line x1="398.00" y1="803.40" x2="398.00" y2="750.40" stroke="#3a3a3a" stroke-width="0.9" />
<line x1="396.40" y1="803.40" x2="399.60" y2="803.40" stroke="#3a3a3a" stroke-width="0.9" />
<line x1="396.40" y1="750.40" x2="399.60" y2="750.40" stroke="#3a3a3a" stroke-width="0.9" />
<circle cx="396.80" cy="756.76" r="2.25" stroke="#3a3a3a" stroke-width="0.9" fill="#fff"/>
<circle cx="399.80" cy="758.88" r="2.25" stroke="#3a3a3a" stroke-width="0.9" fill="#fff"/>
<circle cx="398.00" cy="769.48" r="2.25" stroke="#3a3a3a" stroke-width="0.9" fill="#fff"/>
<circle cx="398.00" cy="775.84" r="2.25" stroke="#3a3a3a" stroke-width="0.9" fill="#fff"/>
<circle cx="398.00" cy="822.48" r="2.25" stroke="#3a3a3a" stroke-width="0.9" fill="#fff"/>
<line x1="394.40" y1="776.26" x2="401.60" y2="776.26" stroke="#3a3a3a" stroke-width="1.9" />
<text x="0" y="0" font-size="9.1" text-anchor="middle" fill="#222" transform="translate(318.40,771.00) rotate(-90)"><tspan>Log</tspan><tspan font-size="6.19" dy="1.55">10</tspan><tspan dy="-1.55"></tspan><tspan> TCID</tspan><tspan font-size="6.19" dy="1.55">50</tspan><tspan dy="-1.55"></tspan><tspan>/g</tspan></text>
<text x="494.30" y="661.80" font-size="10.2" text-anchor="middle" font-weight="400" fill="#222" >TCID<tspan font-size="6.8" dy="2.2">50</tspan><tspan dy="-2.2"> nasal turbinate</tspan></text>
<text x="494.30" y="674.40" font-size="10.2" text-anchor="middle" font-weight="400" fill="#222" >(Omicron)</text>
<rect x="495.20" y="717.80" width="21.80" height="107.00" fill="#e2e2e2"/>
<line x1="459.30" y1="718.50" x2="459.30" y2="824.80" stroke="#555555" stroke-width="1" />
<line x1="459.30" y1="824.80" x2="530.00" y2="824.80" stroke="#555555" stroke-width="1" />
<line x1="455.30" y1="718.50" x2="459.30" y2="718.50" stroke="#555555" stroke-width="1" />
<text x="454.30" y="720.82" font-size="8" text-anchor="end" font-weight="400" fill="#222" >10</text>
<line x1="455.30" y1="739.76" x2="459.30" y2="739.76" stroke="#555555" stroke-width="1" />
<text x="454.30" y="742.08" font-size="8" text-anchor="end" font-weight="400" fill="#222" >8</text>
<line x1="455.30" y1="761.02" x2="459.30" y2="761.02" stroke="#555555" stroke-width="1" />
<text x="454.30" y="763.34" font-size="8" text-anchor="end" font-weight="400" fill="#222" >6</text>
<line x1="455.30" y1="782.28" x2="459.30" y2="782.28" stroke="#555555" stroke-width="1" />
<text x="454.30" y="784.60" font-size="8" text-anchor="end" font-weight="400" fill="#222" >4</text>
<line x1="455.30" y1="803.54" x2="459.30" y2="803.54" stroke="#555555" stroke-width="1" />
<text x="454.30" y="805.86" font-size="8" text-anchor="end" font-weight="400" fill="#222" >2</text>
<line x1="455.30" y1="824.80" x2="459.30" y2="824.80" stroke="#555555" stroke-width="1" />
<text x="454.30" y="827.12" font-size="8" text-anchor="end" font-weight="400" fill="#222" >0</text>
<line x1="466.60" y1="694.40" x2="522.10" y2="694.40" stroke="#9a9a9a" stroke-width="0.9" />
<circle cx="491.10" cy="691.60" r="0.95" fill="#2a2a2a"/>
<circle cx="493.70" cy="691.60" r="0.95" fill="#2a2a2a"/>
<circle cx="496.30" cy="691.60" r="0.95" fill="#2a2a2a"/>
<line x1="489.00" y1="700.80" x2="522.10" y2="700.80" stroke="#9a9a9a" stroke-width="0.9" />
<circle cx="502.40" cy="698.00" r="0.95" fill="#2a2a2a"/>
<circle cx="505.00" cy="698.00" r="0.95" fill="#2a2a2a"/>
<circle cx="507.60" cy="698.00" r="0.95" fill="#2a2a2a"/>
<line x1="500.20" y1="707.40" x2="522.10" y2="707.40" stroke="#9a9a9a" stroke-width="0.9" />
<circle cx="509.20" cy="704.60" r="0.95" fill="#2a2a2a"/>
<circle cx="511.80" cy="704.60" r="0.95" fill="#2a2a2a"/>
<line x1="511.00" y1="713.80" x2="522.10" y2="713.80" stroke="#9a9a9a" stroke-width="0.9" />
<circle cx="513.60" cy="711.00" r="0.95" fill="#2a2a2a"/>
<circle cx="516.20" cy="711.00" r="0.95" fill="#2a2a2a"/>
<circle cx="518.80" cy="711.00" r="0.95" fill="#2a2a2a"/>
<line x1="477.90" y1="724.40" x2="511.00" y2="724.40" stroke="#9a9a9a" stroke-width="0.9" />
<circle cx="494.50" cy="721.60" r="0.95" fill="#2a2a2a"/>
<line x1="466.60" y1="732.20" x2="477.90" y2="732.20" stroke="#9a9a9a" stroke-width="0.9" />
<circle cx="472.00" cy="729.40" r="0.95" fill="#2a2a2a"/>
<line x1="477.90" y1="738.60" x2="489.00" y2="738.60" stroke="#9a9a9a" stroke-width="0.9" />
<circle cx="483.30" cy="735.80" r="0.95" fill="#2a2a2a"/>
<line x1="466.60" y1="798.22" x2="466.60" y2="786.53" stroke="#3c3cf0" stroke-width="0.9" />
<line x1="465.00" y1="798.22" x2="468.20" y2="798.22" stroke="#3c3cf0" stroke-width="0.9" />
<line x1="465.00" y1="786.53" x2="468.20" y2="786.53" stroke="#3c3cf0" stroke-width="0.9" />
<circle cx="466.60" cy="783.34" r="2.25" stroke="#3c3cf0" stroke-width="0.9" fill="#fff"/>
<circle cx="466.60" cy="789.40" r="2.25" stroke="#3c3cf0" stroke-width="0.9" fill="#fff"/>
<circle cx="465.10" cy="796.42" r="2.25" stroke="#3c3cf0" stroke-width="0.9" fill="#fff"/>
<circle cx="468.10" cy="796.42" r="2.25" stroke="#3c3cf0" stroke-width="0.9" fill="#fff"/>
<circle cx="466.60" cy="802.48" r="2.25" stroke="#3c3cf0" stroke-width="0.9" fill="#fff"/>
<line x1="463.00" y1="793.97" x2="470.20" y2="793.97" stroke="#3c3cf0" stroke-width="1.9" />
<line x1="477.90" y1="782.49" x2="477.90" y2="766.87" stroke="#ee3b3b" stroke-width="0.9" />
<line x1="476.30" y1="782.49" x2="479.50" y2="782.49" stroke="#ee3b3b" stroke-width="0.9" />
<line x1="476.30" y1="766.87" x2="479.50" y2="766.87" stroke="#ee3b3b" stroke-width="0.9" />
<circle cx="476.30" cy="767.08" r="2.25" stroke="#ee3b3b" stroke-width="0.9" fill="#fff"/>
<circle cx="479.50" cy="768.57" r="2.25" stroke="#ee3b3b" stroke-width="0.9" fill="#fff"/>
<circle cx="476.30" cy="773.24" r="2.25" stroke="#ee3b3b" stroke-width="0.9" fill="#fff"/>
<circle cx="479.50" cy="774.52" r="2.25" stroke="#ee3b3b" stroke-width="0.9" fill="#fff"/>
<circle cx="477.90" cy="787.91" r="2.25" stroke="#ee3b3b" stroke-width="0.9" fill="#fff"/>
<line x1="474.30" y1="772.18" x2="481.50" y2="772.18" stroke="#ee3b3b" stroke-width="1.9" />
<line x1="489.00" y1="798.22" x2="489.00" y2="785.47" stroke="#3cc43c" stroke-width="0.9" />
<line x1="487.40" y1="798.22" x2="490.60" y2="798.22" stroke="#3cc43c" stroke-width="0.9" />
<line x1="487.40" y1="785.47" x2="490.60" y2="785.47" stroke="#3cc43c" stroke-width="0.9" />
<circle cx="489.00" cy="782.49" r="2.25" stroke="#3cc43c" stroke-width="0.9" fill="#fff"/>
<circle cx="490.50" cy="786.85" r="2.25" stroke="#3cc43c" stroke-width="0.9" fill="#fff"/>
<circle cx="488.00" cy="791.00" r="2.25" stroke="#3cc43c" stroke-width="0.9" fill="#fff"/>
<circle cx="489.00" cy="796.42" r="2.25" stroke="#3cc43c" stroke-width="0.9" fill="#fff"/>
<circle cx="489.00" cy="804.07" r="2.25" stroke="#3cc43c" stroke-width="0.9" fill="#fff"/>
<line x1="485.40" y1="791.74" x2="492.60" y2="791.74" stroke="#3cc43c" stroke-width="1.9" />
<line x1="500.20" y1="798.22" x2="500.20" y2="779.09" stroke="#b042e8" stroke-width="0.9" />
<line x1="498.60" y1="798.22" x2="501.80" y2="798.22" stroke="#b042e8" stroke-width="0.9" />
<line x1="498.60" y1="779.09" x2="501.80" y2="779.09" stroke="#b042e8" stroke-width="0.9" />
<circle cx="498.60" cy="775.48" r="2.25" stroke="#b042e8" stroke-width="0.9" fill="#fff"/>
<circle cx="501.80" cy="779.09" r="2.25" stroke="#b042e8" stroke-width="0.9" fill="#fff"/>
<circle cx="500.20" cy="794.82" r="2.25" stroke="#b042e8" stroke-width="0.9" fill="#fff"/>
<circle cx="498.60" cy="799.71" r="2.25" stroke="#b042e8" stroke-width="0.9" fill="#fff"/>
<circle cx="501.80" cy="799.71" r="2.25" stroke="#b042e8" stroke-width="0.9" fill="#fff"/>
<line x1="496.60" y1="790.25" x2="503.80" y2="790.25" stroke="#b042e8" stroke-width="1.9" />
<line x1="511.00" y1="797.16" x2="511.00" y2="787.60" stroke="#f5a23a" stroke-width="0.9" />
<line x1="509.40" y1="797.16" x2="512.60" y2="797.16" stroke="#f5a23a" stroke-width="0.9" />
<line x1="509.40" y1="787.60" x2="512.60" y2="787.60" stroke="#f5a23a" stroke-width="0.9" />
<circle cx="509.60" cy="784.30" r="2.25" stroke="#f5a23a" stroke-width="0.9" fill="#fff"/>
<circle cx="512.40" cy="787.38" r="2.25" stroke="#f5a23a" stroke-width="0.9" fill="#fff"/>
<circle cx="511.00" cy="792.48" r="2.25" stroke="#f5a23a" stroke-width="0.9" fill="#fff"/>
<circle cx="512.40" cy="798.65" r="2.25" stroke="#f5a23a" stroke-width="0.9" fill="#fff"/>
<circle cx="509.60" cy="801.31" r="2.25" stroke="#f5a23a" stroke-width="0.9" fill="#fff"/>
<line x1="507.40" y1="792.91" x2="514.60" y2="792.91" stroke="#f5a23a" stroke-width="1.9" />
<line x1="522.10" y1="768.99" x2="522.10" y2="761.02" stroke="#3a3a3a" stroke-width="0.9" />
<line x1="520.50" y1="768.99" x2="523.70" y2="768.99" stroke="#3a3a3a" stroke-width="0.9" />
<line x1="520.50" y1="761.02" x2="523.70" y2="761.02" stroke="#3a3a3a" stroke-width="0.9" />
<circle cx="522.10" cy="757.83" r="2.25" stroke="#3a3a3a" stroke-width="0.9" fill="#fff"/>
<circle cx="523.60" cy="762.08" r="2.25" stroke="#3a3a3a" stroke-width="0.9" fill="#fff"/>
<circle cx="520.50" cy="765.48" r="2.25" stroke="#3a3a3a" stroke-width="0.9" fill="#fff"/>
<circle cx="520.50" cy="770.91" r="2.25" stroke="#3a3a3a" stroke-width="0.9" fill="#fff"/>
<circle cx="523.70" cy="770.91" r="2.25" stroke="#3a3a3a" stroke-width="0.9" fill="#fff"/>
<line x1="518.50" y1="765.48" x2="525.70" y2="765.48" stroke="#3a3a3a" stroke-width="1.9" />
<text x="0" y="0" font-size="9.1" text-anchor="middle" fill="#222" transform="translate(438.80,771.00) rotate(-90)"><tspan>Log</tspan><tspan font-size="6.19" dy="1.55">10</tspan><tspan dy="-1.55"></tspan><tspan> TCID</tspan><tspan font-size="6.19" dy="1.55">50</tspan><tspan dy="-1.55"></tspan><tspan>/g</tspan></text>
<rect x="221.40" y="854.50" width="285.00" height="34.60" fill="#e4e4e4"/>
<circle cx="35.40" cy="864.00" r="2.0" stroke="#3c3cf0" stroke-width="0.9" fill="none"/>
<text x="49.20" y="867.80" font-size="9.9" text-anchor="start" font-weight="400" fill="#222" >Prime-2-CoV_Beta (3×10<tspan font-size="6.5" dy="-3.8">7</tspan><tspan dy="3.8"> PFU)</tspan></text>
<circle cx="35.40" cy="881.30" r="2.0" stroke="#ee3b3b" stroke-width="0.9" fill="none"/>
<text x="49.20" y="885.10" font-size="9.9" text-anchor="start" font-weight="400" fill="#222" >Prime-2-CoV_Delta (3×10<tspan font-size="6.5" dy="-3.8">7</tspan><tspan dy="3.8"> PFU)</tspan></text>
<circle cx="35.40" cy="898.70" r="2.0" stroke="#3cc43c" stroke-width="0.9" fill="none"/>
<text x="49.20" y="902.60" font-size="9.9" text-anchor="start" font-weight="400" fill="#222" >Prime-2-CoV_Omicron (3×10<tspan font-size="6.5" dy="-3.8">7</tspan><tspan dy="3.8"> PFU)</tspan></text>
<circle cx="229.20" cy="863.60" r="2.0" stroke="#b042e8" stroke-width="0.9" fill="none"/>
<text x="242.60" y="867.60" font-size="9.9" text-anchor="start" font-weight="400" fill="#222" >Bivalent Prime-2-CoV_Delta+Omicron (1.5×10<tspan font-size="6.5" dy="-3.8">7</tspan><tspan dy="3.8"> PFU each)</tspan></text>
<circle cx="229.20" cy="880.50" r="2.0" stroke="#f5a23a" stroke-width="0.9" fill="none"/>
<text x="242.60" y="884.50" font-size="9.9" text-anchor="start" font-weight="400" fill="#222" >Bivalent Prime-2-CoV_Beta+Omicron (1.5×10<tspan font-size="6.5" dy="-3.8">7</tspan><tspan dy="3.8"> PFU each)</tspan></text>
<circle cx="229.20" cy="898.20" r="2.0" stroke="#3a3a3a" stroke-width="0.9" fill="none"/>
<text x="242.60" y="901.50" font-size="9.9" text-anchor="start" font-weight="400" fill="#222" >Vehicle (PBS)</text>
</svg>
</body></html>
